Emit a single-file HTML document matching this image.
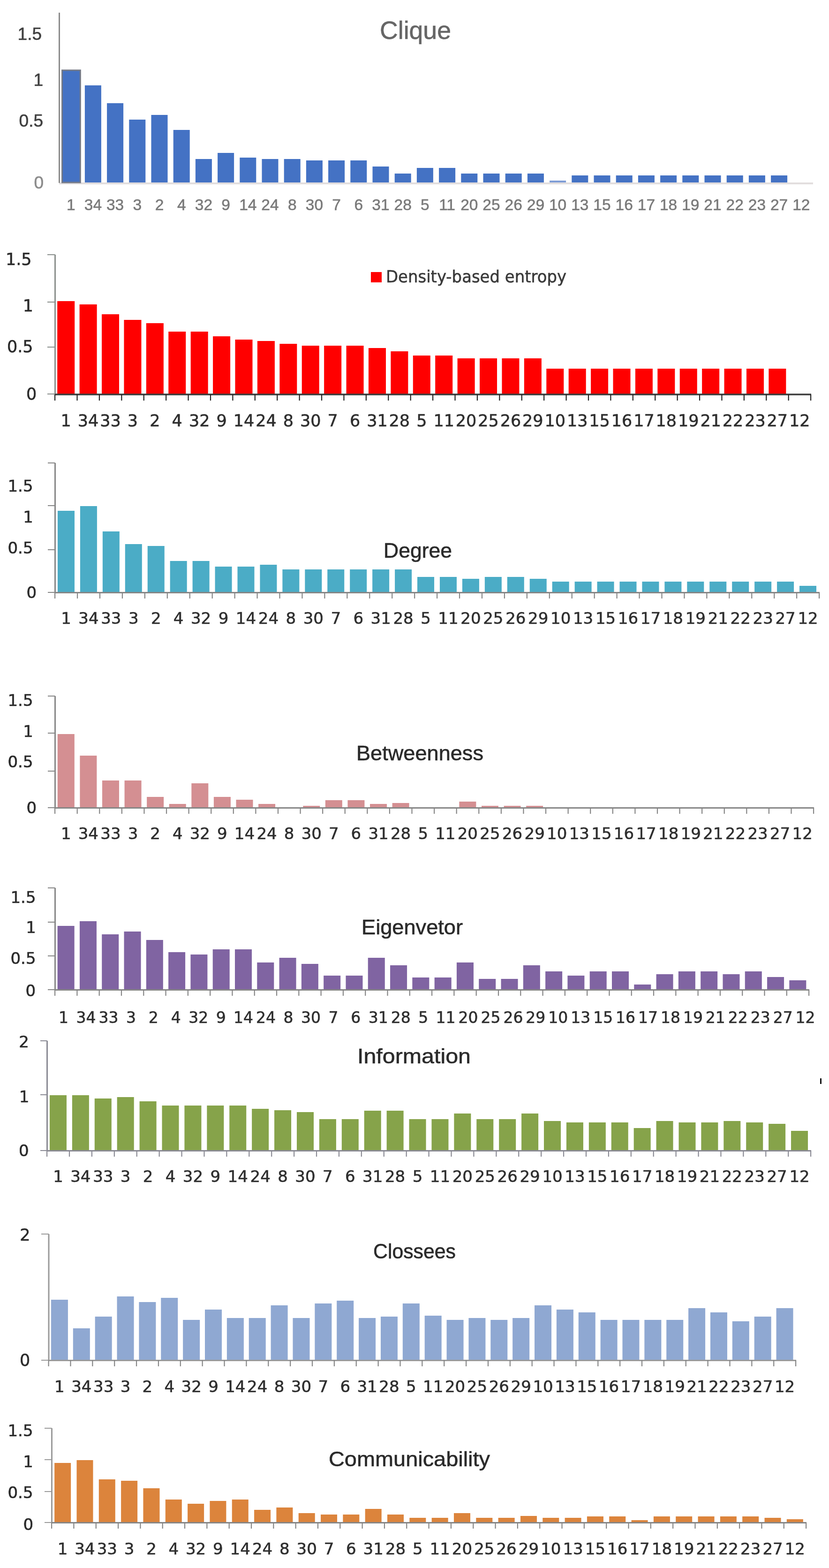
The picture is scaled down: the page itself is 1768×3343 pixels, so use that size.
<!DOCTYPE html>
<html lang="en"><head><meta charset="utf-8"><title>Centrality comparison bar charts</title>
<style>
html,body{margin:0;padding:0;background:#ffffff;}
svg{display:block;}
text{stroke-width:0.6px;paint-order:stroke;}
</style></head>
<body>
<svg width="1768" height="3343" viewBox="0 0 1768 3343">
<rect x="0" y="0" width="1768" height="3343" fill="#ffffff"/>
<g id="clique">
<rect x="126" y="389" width="1608" height="4" fill="#e2dede"/>
<rect x="132.5" y="149.8" width="38.8" height="239.2" fill="#4472C4" stroke="#737987" stroke-width="3"/>
<rect x="180.9" y="182" width="35" height="207" fill="#4472C4"/>
<rect x="228.1" y="220" width="35" height="169" fill="#4472C4"/>
<rect x="275.3" y="255" width="35" height="134" fill="#4472C4"/>
<rect x="322.5" y="245" width="35" height="144" fill="#4472C4"/>
<rect x="369.7" y="277" width="35" height="112" fill="#4472C4"/>
<rect x="416.9" y="339" width="35" height="50" fill="#4472C4"/>
<rect x="464.1" y="326" width="35" height="63" fill="#4472C4"/>
<rect x="511.3" y="336" width="35" height="53" fill="#4472C4"/>
<rect x="558.5" y="339" width="35" height="50" fill="#4472C4"/>
<rect x="605.7" y="339" width="35" height="50" fill="#4472C4"/>
<rect x="652.9" y="342" width="35" height="47" fill="#4472C4"/>
<rect x="700.1" y="342" width="35" height="47" fill="#4472C4"/>
<rect x="747.3" y="342" width="35" height="47" fill="#4472C4"/>
<rect x="794.5" y="355" width="35" height="34" fill="#4472C4"/>
<rect x="841.7" y="370" width="35" height="19" fill="#4472C4"/>
<rect x="888.9" y="358" width="35" height="31" fill="#4472C4"/>
<rect x="936.1" y="358" width="35" height="31" fill="#4472C4"/>
<rect x="983.3" y="370" width="35" height="19" fill="#4472C4"/>
<rect x="1030.5" y="370" width="35" height="19" fill="#4472C4"/>
<rect x="1077.7" y="370" width="35" height="19" fill="#4472C4"/>
<rect x="1124.9" y="370" width="35" height="19" fill="#4472C4"/>
<rect x="1172.1" y="385" width="35" height="4" fill="#7f9dd6"/>
<rect x="1219.3" y="374" width="35" height="15" fill="#4472C4"/>
<rect x="1266.5" y="374" width="35" height="15" fill="#4472C4"/>
<rect x="1313.7" y="374" width="35" height="15" fill="#4472C4"/>
<rect x="1360.9" y="374" width="35" height="15" fill="#4472C4"/>
<rect x="1408.1" y="374" width="35" height="15" fill="#4472C4"/>
<rect x="1455.3" y="374" width="35" height="15" fill="#4472C4"/>
<rect x="1502.5" y="374" width="35" height="15" fill="#4472C4"/>
<rect x="1549.7" y="374" width="35" height="15" fill="#4472C4"/>
<rect x="1596.9" y="374" width="35" height="15" fill="#4472C4"/>
<rect x="1644.1" y="374" width="35" height="15" fill="#4472C4"/>
<rect x="125" y="27" width="3" height="363" fill="#8c8c8c"/>
<text x="89" y="85" font-family="'Liberation Sans', Arial, sans-serif" font-size="37" fill="#404040" stroke="#404040" text-anchor="end">1.5</text>
<text x="92" y="183" font-family="'Liberation Sans', Arial, sans-serif" font-size="37" fill="#404040" stroke="#404040" text-anchor="end">1</text>
<text x="92" y="270" font-family="'Liberation Sans', Arial, sans-serif" font-size="37" fill="#404040" stroke="#404040" text-anchor="end">0.5</text>
<text x="93" y="402" font-family="'Liberation Sans', Arial, sans-serif" font-size="37" fill="#8c8c8c" stroke="#8c8c8c" text-anchor="end">0</text>
<text x="151.2" y="448" font-family="'Liberation Sans', Arial, sans-serif" font-size="33.5" fill="#7a7a7a" stroke="#7a7a7a" text-anchor="middle">1</text>
<text x="198.4" y="448" font-family="'Liberation Sans', Arial, sans-serif" font-size="33.5" fill="#7a7a7a" stroke="#7a7a7a" text-anchor="middle">34</text>
<text x="245.6" y="448" font-family="'Liberation Sans', Arial, sans-serif" font-size="33.5" fill="#7a7a7a" stroke="#7a7a7a" text-anchor="middle">33</text>
<text x="292.8" y="448" font-family="'Liberation Sans', Arial, sans-serif" font-size="33.5" fill="#7a7a7a" stroke="#7a7a7a" text-anchor="middle">3</text>
<text x="340" y="448" font-family="'Liberation Sans', Arial, sans-serif" font-size="33.5" fill="#7a7a7a" stroke="#7a7a7a" text-anchor="middle">2</text>
<text x="387.2" y="448" font-family="'Liberation Sans', Arial, sans-serif" font-size="33.5" fill="#7a7a7a" stroke="#7a7a7a" text-anchor="middle">4</text>
<text x="434.4" y="448" font-family="'Liberation Sans', Arial, sans-serif" font-size="33.5" fill="#7a7a7a" stroke="#7a7a7a" text-anchor="middle">32</text>
<text x="481.6" y="448" font-family="'Liberation Sans', Arial, sans-serif" font-size="33.5" fill="#7a7a7a" stroke="#7a7a7a" text-anchor="middle">9</text>
<text x="528.8" y="448" font-family="'Liberation Sans', Arial, sans-serif" font-size="33.5" fill="#7a7a7a" stroke="#7a7a7a" text-anchor="middle">14</text>
<text x="576" y="448" font-family="'Liberation Sans', Arial, sans-serif" font-size="33.5" fill="#7a7a7a" stroke="#7a7a7a" text-anchor="middle">24</text>
<text x="623.2" y="448" font-family="'Liberation Sans', Arial, sans-serif" font-size="33.5" fill="#7a7a7a" stroke="#7a7a7a" text-anchor="middle">8</text>
<text x="670.4" y="448" font-family="'Liberation Sans', Arial, sans-serif" font-size="33.5" fill="#7a7a7a" stroke="#7a7a7a" text-anchor="middle">30</text>
<text x="717.6" y="448" font-family="'Liberation Sans', Arial, sans-serif" font-size="33.5" fill="#7a7a7a" stroke="#7a7a7a" text-anchor="middle">7</text>
<text x="764.8" y="448" font-family="'Liberation Sans', Arial, sans-serif" font-size="33.5" fill="#7a7a7a" stroke="#7a7a7a" text-anchor="middle">6</text>
<text x="812" y="448" font-family="'Liberation Sans', Arial, sans-serif" font-size="33.5" fill="#7a7a7a" stroke="#7a7a7a" text-anchor="middle">31</text>
<text x="859.2" y="448" font-family="'Liberation Sans', Arial, sans-serif" font-size="33.5" fill="#7a7a7a" stroke="#7a7a7a" text-anchor="middle">28</text>
<text x="906.4" y="448" font-family="'Liberation Sans', Arial, sans-serif" font-size="33.5" fill="#7a7a7a" stroke="#7a7a7a" text-anchor="middle">5</text>
<text x="953.6" y="448" font-family="'Liberation Sans', Arial, sans-serif" font-size="33.5" fill="#7a7a7a" stroke="#7a7a7a" text-anchor="middle">11</text>
<text x="1000.8" y="448" font-family="'Liberation Sans', Arial, sans-serif" font-size="33.5" fill="#7a7a7a" stroke="#7a7a7a" text-anchor="middle">20</text>
<text x="1048" y="448" font-family="'Liberation Sans', Arial, sans-serif" font-size="33.5" fill="#7a7a7a" stroke="#7a7a7a" text-anchor="middle">25</text>
<text x="1095.2" y="448" font-family="'Liberation Sans', Arial, sans-serif" font-size="33.5" fill="#7a7a7a" stroke="#7a7a7a" text-anchor="middle">26</text>
<text x="1142.4" y="448" font-family="'Liberation Sans', Arial, sans-serif" font-size="33.5" fill="#7a7a7a" stroke="#7a7a7a" text-anchor="middle">29</text>
<text x="1189.6" y="448" font-family="'Liberation Sans', Arial, sans-serif" font-size="33.5" fill="#7a7a7a" stroke="#7a7a7a" text-anchor="middle">10</text>
<text x="1236.8" y="448" font-family="'Liberation Sans', Arial, sans-serif" font-size="33.5" fill="#7a7a7a" stroke="#7a7a7a" text-anchor="middle">13</text>
<text x="1284" y="448" font-family="'Liberation Sans', Arial, sans-serif" font-size="33.5" fill="#7a7a7a" stroke="#7a7a7a" text-anchor="middle">15</text>
<text x="1331.2" y="448" font-family="'Liberation Sans', Arial, sans-serif" font-size="33.5" fill="#7a7a7a" stroke="#7a7a7a" text-anchor="middle">16</text>
<text x="1378.4" y="448" font-family="'Liberation Sans', Arial, sans-serif" font-size="33.5" fill="#7a7a7a" stroke="#7a7a7a" text-anchor="middle">17</text>
<text x="1425.6" y="448" font-family="'Liberation Sans', Arial, sans-serif" font-size="33.5" fill="#7a7a7a" stroke="#7a7a7a" text-anchor="middle">18</text>
<text x="1472.8" y="448" font-family="'Liberation Sans', Arial, sans-serif" font-size="33.5" fill="#7a7a7a" stroke="#7a7a7a" text-anchor="middle">19</text>
<text x="1520" y="448" font-family="'Liberation Sans', Arial, sans-serif" font-size="33.5" fill="#7a7a7a" stroke="#7a7a7a" text-anchor="middle">21</text>
<text x="1567.2" y="448" font-family="'Liberation Sans', Arial, sans-serif" font-size="33.5" fill="#7a7a7a" stroke="#7a7a7a" text-anchor="middle">22</text>
<text x="1614.4" y="448" font-family="'Liberation Sans', Arial, sans-serif" font-size="33.5" fill="#7a7a7a" stroke="#7a7a7a" text-anchor="middle">23</text>
<text x="1661.6" y="448" font-family="'Liberation Sans', Arial, sans-serif" font-size="33.5" fill="#7a7a7a" stroke="#7a7a7a" text-anchor="middle">27</text>
<text x="1708.8" y="448" font-family="'Liberation Sans', Arial, sans-serif" font-size="33.5" fill="#7a7a7a" stroke="#7a7a7a" text-anchor="middle">12</text>
<text x="810" y="83" font-family="'Liberation Sans', Arial, sans-serif" font-size="54" fill="#666666" stroke="#666666" textLength="152" lengthAdjust="spacingAndGlyphs">Clique</text>
</g>
<g id="density">
<rect x="122.21" y="642" width="37" height="198" fill="#FF0000"/>
<rect x="169.62" y="649" width="37" height="191" fill="#FF0000"/>
<rect x="217.03" y="670" width="37" height="170" fill="#FF0000"/>
<rect x="264.44" y="682" width="37" height="158" fill="#FF0000"/>
<rect x="311.85" y="689" width="37" height="151" fill="#FF0000"/>
<rect x="359.26" y="707" width="37" height="133" fill="#FF0000"/>
<rect x="406.68" y="707" width="37" height="133" fill="#FF0000"/>
<rect x="454.09" y="717" width="37" height="123" fill="#FF0000"/>
<rect x="501.5" y="724" width="37" height="116" fill="#FF0000"/>
<rect x="548.91" y="727" width="37" height="113" fill="#FF0000"/>
<rect x="596.32" y="733" width="37" height="107" fill="#FF0000"/>
<rect x="643.74" y="737" width="37" height="103" fill="#FF0000"/>
<rect x="691.15" y="737" width="37" height="103" fill="#FF0000"/>
<rect x="738.56" y="737" width="37" height="103" fill="#FF0000"/>
<rect x="785.97" y="742" width="37" height="98" fill="#FF0000"/>
<rect x="833.38" y="749" width="37" height="91" fill="#FF0000"/>
<rect x="880.79" y="758" width="37" height="82" fill="#FF0000"/>
<rect x="928.21" y="758" width="37" height="82" fill="#FF0000"/>
<rect x="975.62" y="764" width="37" height="76" fill="#FF0000"/>
<rect x="1023.03" y="764" width="37" height="76" fill="#FF0000"/>
<rect x="1070.44" y="764" width="37" height="76" fill="#FF0000"/>
<rect x="1117.85" y="764" width="37" height="76" fill="#FF0000"/>
<rect x="1165.26" y="786" width="37" height="54" fill="#FF0000"/>
<rect x="1212.68" y="786" width="37" height="54" fill="#FF0000"/>
<rect x="1260.09" y="786" width="37" height="54" fill="#FF0000"/>
<rect x="1307.5" y="786" width="37" height="54" fill="#FF0000"/>
<rect x="1354.91" y="786" width="37" height="54" fill="#FF0000"/>
<rect x="1402.32" y="786" width="37" height="54" fill="#FF0000"/>
<rect x="1449.74" y="786" width="37" height="54" fill="#FF0000"/>
<rect x="1497.15" y="786" width="37" height="54" fill="#FF0000"/>
<rect x="1544.56" y="786" width="37" height="54" fill="#FF0000"/>
<rect x="1591.97" y="786" width="37" height="54" fill="#FF0000"/>
<rect x="1639.38" y="786" width="37" height="54" fill="#FF0000"/>
<rect x="116" y="543" width="3" height="297" fill="#8a8f8c"/>
<rect x="117" y="839.25" width="1613" height="3.5" fill="#3c3c3c"/>
<rect x="101" y="542" width="16.5" height="2" fill="#8a8f8c"/>
<rect x="101" y="643" width="16.5" height="2" fill="#8a8f8c"/>
<rect x="101" y="739" width="16.5" height="2" fill="#8a8f8c"/>
<rect x="101" y="839" width="16.5" height="2" fill="#8a8f8c"/>
<rect x="116" y="841" width="2.2" height="13" fill="#222"/>
<rect x="163.41" y="841" width="2.2" height="13" fill="#222"/>
<rect x="210.82" y="841" width="2.2" height="13" fill="#222"/>
<rect x="258.24" y="841" width="2.2" height="13" fill="#222"/>
<rect x="305.65" y="841" width="2.2" height="13" fill="#222"/>
<rect x="353.06" y="841" width="2.2" height="13" fill="#222"/>
<rect x="400.47" y="841" width="2.2" height="13" fill="#222"/>
<rect x="447.88" y="841" width="2.2" height="13" fill="#222"/>
<rect x="495.29" y="841" width="2.2" height="13" fill="#222"/>
<rect x="542.71" y="841" width="2.2" height="13" fill="#222"/>
<rect x="590.12" y="841" width="2.2" height="13" fill="#222"/>
<rect x="637.53" y="841" width="2.2" height="13" fill="#222"/>
<rect x="684.94" y="841" width="2.2" height="13" fill="#222"/>
<rect x="732.35" y="841" width="2.2" height="13" fill="#222"/>
<rect x="779.76" y="841" width="2.2" height="13" fill="#222"/>
<rect x="827.18" y="841" width="2.2" height="13" fill="#222"/>
<rect x="874.59" y="841" width="2.2" height="13" fill="#222"/>
<rect x="922" y="841" width="2.2" height="13" fill="#222"/>
<rect x="969.41" y="841" width="2.2" height="13" fill="#222"/>
<rect x="1016.82" y="841" width="2.2" height="13" fill="#222"/>
<rect x="1064.24" y="841" width="2.2" height="13" fill="#222"/>
<rect x="1111.65" y="841" width="2.2" height="13" fill="#222"/>
<rect x="1159.06" y="841" width="2.2" height="13" fill="#222"/>
<rect x="1206.47" y="841" width="2.2" height="13" fill="#222"/>
<rect x="1253.88" y="841" width="2.2" height="13" fill="#222"/>
<rect x="1301.29" y="841" width="2.2" height="13" fill="#222"/>
<rect x="1348.71" y="841" width="2.2" height="13" fill="#222"/>
<rect x="1396.12" y="841" width="2.2" height="13" fill="#222"/>
<rect x="1443.53" y="841" width="2.2" height="13" fill="#222"/>
<rect x="1490.94" y="841" width="2.2" height="13" fill="#222"/>
<rect x="1538.35" y="841" width="2.2" height="13" fill="#222"/>
<rect x="1585.76" y="841" width="2.2" height="13" fill="#222"/>
<rect x="1633.18" y="841" width="2.2" height="13" fill="#222"/>
<rect x="1680.59" y="841" width="2.2" height="13" fill="#222"/>
<rect x="1728" y="841" width="2.2" height="13" fill="#222"/>
<text x="67.62" y="565" font-family="'DejaVu Sans', Verdana, sans-serif" font-size="35" fill="#2a2a2a" stroke="#2a2a2a" text-anchor="end">1.5</text>
<text x="70.97" y="664" font-family="'DejaVu Sans', Verdana, sans-serif" font-size="35" fill="#2a2a2a" stroke="#2a2a2a" text-anchor="end">1</text>
<text x="70.62" y="751" font-family="'DejaVu Sans', Verdana, sans-serif" font-size="35" fill="#2a2a2a" stroke="#2a2a2a" text-anchor="end">0.5</text>
<text x="78.31" y="852" font-family="'DejaVu Sans', Verdana, sans-serif" font-size="35" fill="#2a2a2a" stroke="#2a2a2a" text-anchor="end">0</text>
<text x="140.71" y="908.5" font-family="'DejaVu Sans', Verdana, sans-serif" font-size="35" fill="#2e2e2e" stroke="#2e2e2e" text-anchor="middle">1</text>
<text x="188.12" y="908.5" font-family="'DejaVu Sans', Verdana, sans-serif" font-size="35" fill="#2e2e2e" stroke="#2e2e2e" text-anchor="middle">34</text>
<text x="235.53" y="908.5" font-family="'DejaVu Sans', Verdana, sans-serif" font-size="35" fill="#2e2e2e" stroke="#2e2e2e" text-anchor="middle">33</text>
<text x="282.94" y="908.5" font-family="'DejaVu Sans', Verdana, sans-serif" font-size="35" fill="#2e2e2e" stroke="#2e2e2e" text-anchor="middle">3</text>
<text x="330.35" y="908.5" font-family="'DejaVu Sans', Verdana, sans-serif" font-size="35" fill="#2e2e2e" stroke="#2e2e2e" text-anchor="middle">2</text>
<text x="377.76" y="908.5" font-family="'DejaVu Sans', Verdana, sans-serif" font-size="35" fill="#2e2e2e" stroke="#2e2e2e" text-anchor="middle">4</text>
<text x="425.18" y="908.5" font-family="'DejaVu Sans', Verdana, sans-serif" font-size="35" fill="#2e2e2e" stroke="#2e2e2e" text-anchor="middle">32</text>
<text x="472.59" y="908.5" font-family="'DejaVu Sans', Verdana, sans-serif" font-size="35" fill="#2e2e2e" stroke="#2e2e2e" text-anchor="middle">9</text>
<text x="520" y="908.5" font-family="'DejaVu Sans', Verdana, sans-serif" font-size="35" fill="#2e2e2e" stroke="#2e2e2e" text-anchor="middle">14</text>
<text x="567.41" y="908.5" font-family="'DejaVu Sans', Verdana, sans-serif" font-size="35" fill="#2e2e2e" stroke="#2e2e2e" text-anchor="middle">24</text>
<text x="614.82" y="908.5" font-family="'DejaVu Sans', Verdana, sans-serif" font-size="35" fill="#2e2e2e" stroke="#2e2e2e" text-anchor="middle">8</text>
<text x="662.24" y="908.5" font-family="'DejaVu Sans', Verdana, sans-serif" font-size="35" fill="#2e2e2e" stroke="#2e2e2e" text-anchor="middle">30</text>
<text x="709.65" y="908.5" font-family="'DejaVu Sans', Verdana, sans-serif" font-size="35" fill="#2e2e2e" stroke="#2e2e2e" text-anchor="middle">7</text>
<text x="757.06" y="908.5" font-family="'DejaVu Sans', Verdana, sans-serif" font-size="35" fill="#2e2e2e" stroke="#2e2e2e" text-anchor="middle">6</text>
<text x="804.47" y="908.5" font-family="'DejaVu Sans', Verdana, sans-serif" font-size="35" fill="#2e2e2e" stroke="#2e2e2e" text-anchor="middle">31</text>
<text x="851.88" y="908.5" font-family="'DejaVu Sans', Verdana, sans-serif" font-size="35" fill="#2e2e2e" stroke="#2e2e2e" text-anchor="middle">28</text>
<text x="899.29" y="908.5" font-family="'DejaVu Sans', Verdana, sans-serif" font-size="35" fill="#2e2e2e" stroke="#2e2e2e" text-anchor="middle">5</text>
<text x="946.71" y="908.5" font-family="'DejaVu Sans', Verdana, sans-serif" font-size="35" fill="#2e2e2e" stroke="#2e2e2e" text-anchor="middle">11</text>
<text x="994.12" y="908.5" font-family="'DejaVu Sans', Verdana, sans-serif" font-size="35" fill="#2e2e2e" stroke="#2e2e2e" text-anchor="middle">20</text>
<text x="1041.53" y="908.5" font-family="'DejaVu Sans', Verdana, sans-serif" font-size="35" fill="#2e2e2e" stroke="#2e2e2e" text-anchor="middle">25</text>
<text x="1088.94" y="908.5" font-family="'DejaVu Sans', Verdana, sans-serif" font-size="35" fill="#2e2e2e" stroke="#2e2e2e" text-anchor="middle">26</text>
<text x="1136.35" y="908.5" font-family="'DejaVu Sans', Verdana, sans-serif" font-size="35" fill="#2e2e2e" stroke="#2e2e2e" text-anchor="middle">29</text>
<text x="1183.76" y="908.5" font-family="'DejaVu Sans', Verdana, sans-serif" font-size="35" fill="#2e2e2e" stroke="#2e2e2e" text-anchor="middle">10</text>
<text x="1231.18" y="908.5" font-family="'DejaVu Sans', Verdana, sans-serif" font-size="35" fill="#2e2e2e" stroke="#2e2e2e" text-anchor="middle">13</text>
<text x="1278.59" y="908.5" font-family="'DejaVu Sans', Verdana, sans-serif" font-size="35" fill="#2e2e2e" stroke="#2e2e2e" text-anchor="middle">15</text>
<text x="1326" y="908.5" font-family="'DejaVu Sans', Verdana, sans-serif" font-size="35" fill="#2e2e2e" stroke="#2e2e2e" text-anchor="middle">16</text>
<text x="1373.41" y="908.5" font-family="'DejaVu Sans', Verdana, sans-serif" font-size="35" fill="#2e2e2e" stroke="#2e2e2e" text-anchor="middle">17</text>
<text x="1420.82" y="908.5" font-family="'DejaVu Sans', Verdana, sans-serif" font-size="35" fill="#2e2e2e" stroke="#2e2e2e" text-anchor="middle">18</text>
<text x="1468.24" y="908.5" font-family="'DejaVu Sans', Verdana, sans-serif" font-size="35" fill="#2e2e2e" stroke="#2e2e2e" text-anchor="middle">19</text>
<text x="1515.65" y="908.5" font-family="'DejaVu Sans', Verdana, sans-serif" font-size="35" fill="#2e2e2e" stroke="#2e2e2e" text-anchor="middle">21</text>
<text x="1563.06" y="908.5" font-family="'DejaVu Sans', Verdana, sans-serif" font-size="35" fill="#2e2e2e" stroke="#2e2e2e" text-anchor="middle">22</text>
<text x="1610.47" y="908.5" font-family="'DejaVu Sans', Verdana, sans-serif" font-size="35" fill="#2e2e2e" stroke="#2e2e2e" text-anchor="middle">23</text>
<text x="1657.88" y="908.5" font-family="'DejaVu Sans', Verdana, sans-serif" font-size="35" fill="#2e2e2e" stroke="#2e2e2e" text-anchor="middle">27</text>
<text x="1705.29" y="908.5" font-family="'DejaVu Sans', Verdana, sans-serif" font-size="35" fill="#2e2e2e" stroke="#2e2e2e" text-anchor="middle">12</text>
<rect x="791" y="580" width="23" height="22" fill="#FF0000"/>
<text x="823" y="602" font-family="'DejaVu Sans', Verdana, sans-serif" font-size="35" fill="#3a3a3a" stroke="#3a3a3a" textLength="385" lengthAdjust="spacingAndGlyphs">Density-based entropy</text>
</g>
<g id="degree">
<rect x="122.97" y="1089" width="36" height="174" fill="#4BACC6"/>
<rect x="170.91" y="1079" width="36" height="184" fill="#4BACC6"/>
<rect x="218.85" y="1133" width="36" height="130" fill="#4BACC6"/>
<rect x="266.79" y="1160" width="36" height="103" fill="#4BACC6"/>
<rect x="314.74" y="1164" width="36" height="99" fill="#4BACC6"/>
<rect x="362.68" y="1196" width="36" height="67" fill="#4BACC6"/>
<rect x="410.62" y="1196" width="36" height="67" fill="#4BACC6"/>
<rect x="458.56" y="1208" width="36" height="55" fill="#4BACC6"/>
<rect x="506.5" y="1208" width="36" height="55" fill="#4BACC6"/>
<rect x="554.44" y="1204" width="36" height="59" fill="#4BACC6"/>
<rect x="602.38" y="1214" width="36" height="49" fill="#4BACC6"/>
<rect x="650.32" y="1214" width="36" height="49" fill="#4BACC6"/>
<rect x="698.26" y="1214" width="36" height="49" fill="#4BACC6"/>
<rect x="746.21" y="1214" width="36" height="49" fill="#4BACC6"/>
<rect x="794.15" y="1214" width="36" height="49" fill="#4BACC6"/>
<rect x="842.09" y="1214" width="36" height="49" fill="#4BACC6"/>
<rect x="890.03" y="1230" width="36" height="33" fill="#4BACC6"/>
<rect x="937.97" y="1230" width="36" height="33" fill="#4BACC6"/>
<rect x="985.91" y="1234" width="36" height="29" fill="#4BACC6"/>
<rect x="1033.85" y="1230" width="36" height="33" fill="#4BACC6"/>
<rect x="1081.79" y="1230" width="36" height="33" fill="#4BACC6"/>
<rect x="1129.74" y="1234" width="36" height="29" fill="#4BACC6"/>
<rect x="1177.68" y="1240" width="36" height="23" fill="#4BACC6"/>
<rect x="1225.62" y="1240" width="36" height="23" fill="#4BACC6"/>
<rect x="1273.56" y="1240" width="36" height="23" fill="#4BACC6"/>
<rect x="1321.5" y="1240" width="36" height="23" fill="#4BACC6"/>
<rect x="1369.44" y="1240" width="36" height="23" fill="#4BACC6"/>
<rect x="1417.38" y="1240" width="36" height="23" fill="#4BACC6"/>
<rect x="1465.32" y="1240" width="36" height="23" fill="#4BACC6"/>
<rect x="1513.26" y="1240" width="36" height="23" fill="#4BACC6"/>
<rect x="1561.21" y="1240" width="36" height="23" fill="#4BACC6"/>
<rect x="1609.15" y="1240" width="36" height="23" fill="#4BACC6"/>
<rect x="1657.09" y="1240" width="36" height="23" fill="#4BACC6"/>
<rect x="1705.03" y="1249" width="36" height="14" fill="#4BACC6"/>
<rect x="116" y="987" width="3" height="276" fill="#868686"/>
<rect x="117" y="1262" width="1631" height="3" fill="#868686"/>
<rect x="102" y="986" width="15.5" height="2" fill="#868686"/>
<rect x="102" y="1077" width="15.5" height="2" fill="#868686"/>
<rect x="102" y="1171" width="15.5" height="2" fill="#868686"/>
<rect x="102" y="1262" width="15.5" height="2" fill="#868686"/>
<rect x="116" y="1263" width="2.2" height="13" fill="#868686"/>
<rect x="163.94" y="1263" width="2.2" height="13" fill="#868686"/>
<rect x="211.88" y="1263" width="2.2" height="13" fill="#868686"/>
<rect x="259.82" y="1263" width="2.2" height="13" fill="#868686"/>
<rect x="307.76" y="1263" width="2.2" height="13" fill="#868686"/>
<rect x="355.71" y="1263" width="2.2" height="13" fill="#868686"/>
<rect x="403.65" y="1263" width="2.2" height="13" fill="#868686"/>
<rect x="451.59" y="1263" width="2.2" height="13" fill="#868686"/>
<rect x="499.53" y="1263" width="2.2" height="13" fill="#868686"/>
<rect x="547.47" y="1263" width="2.2" height="13" fill="#868686"/>
<rect x="595.41" y="1263" width="2.2" height="13" fill="#868686"/>
<rect x="643.35" y="1263" width="2.2" height="13" fill="#868686"/>
<rect x="691.29" y="1263" width="2.2" height="13" fill="#868686"/>
<rect x="739.24" y="1263" width="2.2" height="13" fill="#868686"/>
<rect x="787.18" y="1263" width="2.2" height="13" fill="#868686"/>
<rect x="835.12" y="1263" width="2.2" height="13" fill="#868686"/>
<rect x="883.06" y="1263" width="2.2" height="13" fill="#868686"/>
<rect x="931" y="1263" width="2.2" height="13" fill="#868686"/>
<rect x="978.94" y="1263" width="2.2" height="13" fill="#868686"/>
<rect x="1026.88" y="1263" width="2.2" height="13" fill="#868686"/>
<rect x="1074.82" y="1263" width="2.2" height="13" fill="#868686"/>
<rect x="1122.76" y="1263" width="2.2" height="13" fill="#868686"/>
<rect x="1170.71" y="1263" width="2.2" height="13" fill="#868686"/>
<rect x="1218.65" y="1263" width="2.2" height="13" fill="#868686"/>
<rect x="1266.59" y="1263" width="2.2" height="13" fill="#868686"/>
<rect x="1314.53" y="1263" width="2.2" height="13" fill="#868686"/>
<rect x="1362.47" y="1263" width="2.2" height="13" fill="#868686"/>
<rect x="1410.41" y="1263" width="2.2" height="13" fill="#868686"/>
<rect x="1458.35" y="1263" width="2.2" height="13" fill="#868686"/>
<rect x="1506.29" y="1263" width="2.2" height="13" fill="#868686"/>
<rect x="1554.24" y="1263" width="2.2" height="13" fill="#868686"/>
<rect x="1602.18" y="1263" width="2.2" height="13" fill="#868686"/>
<rect x="1650.12" y="1263" width="2.2" height="13" fill="#868686"/>
<rect x="1698.06" y="1263" width="2.2" height="13" fill="#868686"/>
<rect x="1746" y="1263" width="2.2" height="13" fill="#868686"/>
<text x="70.55" y="1048" font-family="'DejaVu Sans', Verdana, sans-serif" font-size="34" fill="#2a2a2a" stroke="#2a2a2a" text-anchor="end">1.5</text>
<text x="70.89" y="1114" font-family="'DejaVu Sans', Verdana, sans-serif" font-size="34" fill="#2a2a2a" stroke="#2a2a2a" text-anchor="end">1</text>
<text x="70.55" y="1180" font-family="'DejaVu Sans', Verdana, sans-serif" font-size="34" fill="#2a2a2a" stroke="#2a2a2a" text-anchor="end">0.5</text>
<text x="78.24" y="1275" font-family="'DejaVu Sans', Verdana, sans-serif" font-size="34" fill="#2a2a2a" stroke="#2a2a2a" text-anchor="end">0</text>
<text x="140.97" y="1329.5" font-family="'DejaVu Sans', Verdana, sans-serif" font-size="34" fill="#2e2e2e" stroke="#2e2e2e" text-anchor="middle">1</text>
<text x="188.91" y="1329.5" font-family="'DejaVu Sans', Verdana, sans-serif" font-size="34" fill="#2e2e2e" stroke="#2e2e2e" text-anchor="middle">34</text>
<text x="236.85" y="1329.5" font-family="'DejaVu Sans', Verdana, sans-serif" font-size="34" fill="#2e2e2e" stroke="#2e2e2e" text-anchor="middle">33</text>
<text x="284.79" y="1329.5" font-family="'DejaVu Sans', Verdana, sans-serif" font-size="34" fill="#2e2e2e" stroke="#2e2e2e" text-anchor="middle">3</text>
<text x="332.74" y="1329.5" font-family="'DejaVu Sans', Verdana, sans-serif" font-size="34" fill="#2e2e2e" stroke="#2e2e2e" text-anchor="middle">2</text>
<text x="380.68" y="1329.5" font-family="'DejaVu Sans', Verdana, sans-serif" font-size="34" fill="#2e2e2e" stroke="#2e2e2e" text-anchor="middle">4</text>
<text x="428.62" y="1329.5" font-family="'DejaVu Sans', Verdana, sans-serif" font-size="34" fill="#2e2e2e" stroke="#2e2e2e" text-anchor="middle">32</text>
<text x="476.56" y="1329.5" font-family="'DejaVu Sans', Verdana, sans-serif" font-size="34" fill="#2e2e2e" stroke="#2e2e2e" text-anchor="middle">9</text>
<text x="524.5" y="1329.5" font-family="'DejaVu Sans', Verdana, sans-serif" font-size="34" fill="#2e2e2e" stroke="#2e2e2e" text-anchor="middle">14</text>
<text x="572.44" y="1329.5" font-family="'DejaVu Sans', Verdana, sans-serif" font-size="34" fill="#2e2e2e" stroke="#2e2e2e" text-anchor="middle">24</text>
<text x="620.38" y="1329.5" font-family="'DejaVu Sans', Verdana, sans-serif" font-size="34" fill="#2e2e2e" stroke="#2e2e2e" text-anchor="middle">8</text>
<text x="668.32" y="1329.5" font-family="'DejaVu Sans', Verdana, sans-serif" font-size="34" fill="#2e2e2e" stroke="#2e2e2e" text-anchor="middle">30</text>
<text x="716.26" y="1329.5" font-family="'DejaVu Sans', Verdana, sans-serif" font-size="34" fill="#2e2e2e" stroke="#2e2e2e" text-anchor="middle">7</text>
<text x="764.21" y="1329.5" font-family="'DejaVu Sans', Verdana, sans-serif" font-size="34" fill="#2e2e2e" stroke="#2e2e2e" text-anchor="middle">6</text>
<text x="812.15" y="1329.5" font-family="'DejaVu Sans', Verdana, sans-serif" font-size="34" fill="#2e2e2e" stroke="#2e2e2e" text-anchor="middle">31</text>
<text x="860.09" y="1329.5" font-family="'DejaVu Sans', Verdana, sans-serif" font-size="34" fill="#2e2e2e" stroke="#2e2e2e" text-anchor="middle">28</text>
<text x="908.03" y="1329.5" font-family="'DejaVu Sans', Verdana, sans-serif" font-size="34" fill="#2e2e2e" stroke="#2e2e2e" text-anchor="middle">5</text>
<text x="955.97" y="1329.5" font-family="'DejaVu Sans', Verdana, sans-serif" font-size="34" fill="#2e2e2e" stroke="#2e2e2e" text-anchor="middle">11</text>
<text x="1003.91" y="1329.5" font-family="'DejaVu Sans', Verdana, sans-serif" font-size="34" fill="#2e2e2e" stroke="#2e2e2e" text-anchor="middle">20</text>
<text x="1051.85" y="1329.5" font-family="'DejaVu Sans', Verdana, sans-serif" font-size="34" fill="#2e2e2e" stroke="#2e2e2e" text-anchor="middle">25</text>
<text x="1099.79" y="1329.5" font-family="'DejaVu Sans', Verdana, sans-serif" font-size="34" fill="#2e2e2e" stroke="#2e2e2e" text-anchor="middle">26</text>
<text x="1147.74" y="1329.5" font-family="'DejaVu Sans', Verdana, sans-serif" font-size="34" fill="#2e2e2e" stroke="#2e2e2e" text-anchor="middle">29</text>
<text x="1195.68" y="1329.5" font-family="'DejaVu Sans', Verdana, sans-serif" font-size="34" fill="#2e2e2e" stroke="#2e2e2e" text-anchor="middle">10</text>
<text x="1243.62" y="1329.5" font-family="'DejaVu Sans', Verdana, sans-serif" font-size="34" fill="#2e2e2e" stroke="#2e2e2e" text-anchor="middle">13</text>
<text x="1291.56" y="1329.5" font-family="'DejaVu Sans', Verdana, sans-serif" font-size="34" fill="#2e2e2e" stroke="#2e2e2e" text-anchor="middle">15</text>
<text x="1339.5" y="1329.5" font-family="'DejaVu Sans', Verdana, sans-serif" font-size="34" fill="#2e2e2e" stroke="#2e2e2e" text-anchor="middle">16</text>
<text x="1387.44" y="1329.5" font-family="'DejaVu Sans', Verdana, sans-serif" font-size="34" fill="#2e2e2e" stroke="#2e2e2e" text-anchor="middle">17</text>
<text x="1435.38" y="1329.5" font-family="'DejaVu Sans', Verdana, sans-serif" font-size="34" fill="#2e2e2e" stroke="#2e2e2e" text-anchor="middle">18</text>
<text x="1483.32" y="1329.5" font-family="'DejaVu Sans', Verdana, sans-serif" font-size="34" fill="#2e2e2e" stroke="#2e2e2e" text-anchor="middle">19</text>
<text x="1531.26" y="1329.5" font-family="'DejaVu Sans', Verdana, sans-serif" font-size="34" fill="#2e2e2e" stroke="#2e2e2e" text-anchor="middle">21</text>
<text x="1579.21" y="1329.5" font-family="'DejaVu Sans', Verdana, sans-serif" font-size="34" fill="#2e2e2e" stroke="#2e2e2e" text-anchor="middle">22</text>
<text x="1627.15" y="1329.5" font-family="'DejaVu Sans', Verdana, sans-serif" font-size="34" fill="#2e2e2e" stroke="#2e2e2e" text-anchor="middle">23</text>
<text x="1675.09" y="1329.5" font-family="'DejaVu Sans', Verdana, sans-serif" font-size="34" fill="#2e2e2e" stroke="#2e2e2e" text-anchor="middle">27</text>
<text x="1723.03" y="1329.5" font-family="'DejaVu Sans', Verdana, sans-serif" font-size="34" fill="#2e2e2e" stroke="#2e2e2e" text-anchor="middle">12</text>
<text x="818" y="1188.5" font-family="'Liberation Sans', Arial, sans-serif" font-size="44" fill="#2a2a2a" stroke="#2a2a2a" textLength="146" lengthAdjust="spacingAndGlyphs">Degree</text>
</g>
<g id="betweenness">
<rect x="122.79" y="1565" width="36" height="157" fill="#D48F92"/>
<rect x="170.38" y="1611" width="36" height="111" fill="#D48F92"/>
<rect x="217.97" y="1664" width="36" height="58" fill="#D48F92"/>
<rect x="265.56" y="1664" width="36" height="58" fill="#D48F92"/>
<rect x="313.15" y="1699" width="36" height="23" fill="#D48F92"/>
<rect x="360.74" y="1714" width="36" height="8" fill="#D48F92"/>
<rect x="408.32" y="1670" width="36" height="52" fill="#D48F92"/>
<rect x="455.91" y="1699" width="36" height="23" fill="#D48F92"/>
<rect x="503.5" y="1705" width="36" height="17" fill="#D48F92"/>
<rect x="551.09" y="1714" width="36" height="8" fill="#D48F92"/>
<rect x="646.26" y="1718" width="36" height="4" fill="#D48F92"/>
<rect x="693.85" y="1706" width="36" height="16" fill="#D48F92"/>
<rect x="741.44" y="1706" width="36" height="16" fill="#D48F92"/>
<rect x="789.03" y="1714" width="36" height="8" fill="#D48F92"/>
<rect x="836.62" y="1712" width="36" height="10" fill="#D48F92"/>
<rect x="979.38" y="1709" width="36" height="13" fill="#D48F92"/>
<rect x="1026.97" y="1718" width="36" height="4" fill="#D48F92"/>
<rect x="1074.56" y="1718" width="36" height="4" fill="#D48F92"/>
<rect x="1122.15" y="1718" width="36" height="4" fill="#D48F92"/>
<rect x="116" y="1484" width="3" height="238" fill="#868686"/>
<rect x="117" y="1721" width="1619" height="3" fill="#868686"/>
<rect x="102" y="1483" width="15.5" height="2" fill="#868686"/>
<rect x="102" y="1562" width="15.5" height="2" fill="#868686"/>
<rect x="102" y="1643" width="15.5" height="2" fill="#868686"/>
<rect x="102" y="1721" width="15.5" height="2" fill="#868686"/>
<rect x="116" y="1722" width="2.2" height="13" fill="#868686"/>
<rect x="163.59" y="1722" width="2.2" height="13" fill="#868686"/>
<rect x="211.18" y="1722" width="2.2" height="13" fill="#868686"/>
<rect x="258.76" y="1722" width="2.2" height="13" fill="#868686"/>
<rect x="306.35" y="1722" width="2.2" height="13" fill="#868686"/>
<rect x="353.94" y="1722" width="2.2" height="13" fill="#868686"/>
<rect x="401.53" y="1722" width="2.2" height="13" fill="#868686"/>
<rect x="449.12" y="1722" width="2.2" height="13" fill="#868686"/>
<rect x="496.71" y="1722" width="2.2" height="13" fill="#868686"/>
<rect x="544.29" y="1722" width="2.2" height="13" fill="#868686"/>
<rect x="591.88" y="1722" width="2.2" height="13" fill="#868686"/>
<rect x="639.47" y="1722" width="2.2" height="13" fill="#868686"/>
<rect x="687.06" y="1722" width="2.2" height="13" fill="#868686"/>
<rect x="734.65" y="1722" width="2.2" height="13" fill="#868686"/>
<rect x="782.24" y="1722" width="2.2" height="13" fill="#868686"/>
<rect x="829.82" y="1722" width="2.2" height="13" fill="#868686"/>
<rect x="877.41" y="1722" width="2.2" height="13" fill="#868686"/>
<rect x="925" y="1722" width="2.2" height="13" fill="#868686"/>
<rect x="972.59" y="1722" width="2.2" height="13" fill="#868686"/>
<rect x="1020.18" y="1722" width="2.2" height="13" fill="#868686"/>
<rect x="1067.76" y="1722" width="2.2" height="13" fill="#868686"/>
<rect x="1115.35" y="1722" width="2.2" height="13" fill="#868686"/>
<rect x="1162.94" y="1722" width="2.2" height="13" fill="#868686"/>
<rect x="1210.53" y="1722" width="2.2" height="13" fill="#868686"/>
<rect x="1258.12" y="1722" width="2.2" height="13" fill="#868686"/>
<rect x="1305.71" y="1722" width="2.2" height="13" fill="#868686"/>
<rect x="1353.29" y="1722" width="2.2" height="13" fill="#868686"/>
<rect x="1400.88" y="1722" width="2.2" height="13" fill="#868686"/>
<rect x="1448.47" y="1722" width="2.2" height="13" fill="#868686"/>
<rect x="1496.06" y="1722" width="2.2" height="13" fill="#868686"/>
<rect x="1543.65" y="1722" width="2.2" height="13" fill="#868686"/>
<rect x="1591.24" y="1722" width="2.2" height="13" fill="#868686"/>
<rect x="1638.82" y="1722" width="2.2" height="13" fill="#868686"/>
<rect x="1686.41" y="1722" width="2.2" height="13" fill="#868686"/>
<rect x="1734" y="1722" width="2.2" height="13" fill="#868686"/>
<text x="70.55" y="1505" font-family="'DejaVu Sans', Verdana, sans-serif" font-size="34" fill="#2a2a2a" stroke="#2a2a2a" text-anchor="end">1.5</text>
<text x="70.89" y="1571" font-family="'DejaVu Sans', Verdana, sans-serif" font-size="34" fill="#2a2a2a" stroke="#2a2a2a" text-anchor="end">1</text>
<text x="70.55" y="1636" font-family="'DejaVu Sans', Verdana, sans-serif" font-size="34" fill="#2a2a2a" stroke="#2a2a2a" text-anchor="end">0.5</text>
<text x="78.24" y="1734" font-family="'DejaVu Sans', Verdana, sans-serif" font-size="34" fill="#2a2a2a" stroke="#2a2a2a" text-anchor="end">0</text>
<text x="140.79" y="1789" font-family="'DejaVu Sans', Verdana, sans-serif" font-size="34" fill="#2e2e2e" stroke="#2e2e2e" text-anchor="middle">1</text>
<text x="188.38" y="1789" font-family="'DejaVu Sans', Verdana, sans-serif" font-size="34" fill="#2e2e2e" stroke="#2e2e2e" text-anchor="middle">34</text>
<text x="235.97" y="1789" font-family="'DejaVu Sans', Verdana, sans-serif" font-size="34" fill="#2e2e2e" stroke="#2e2e2e" text-anchor="middle">33</text>
<text x="283.56" y="1789" font-family="'DejaVu Sans', Verdana, sans-serif" font-size="34" fill="#2e2e2e" stroke="#2e2e2e" text-anchor="middle">3</text>
<text x="331.15" y="1789" font-family="'DejaVu Sans', Verdana, sans-serif" font-size="34" fill="#2e2e2e" stroke="#2e2e2e" text-anchor="middle">2</text>
<text x="378.74" y="1789" font-family="'DejaVu Sans', Verdana, sans-serif" font-size="34" fill="#2e2e2e" stroke="#2e2e2e" text-anchor="middle">4</text>
<text x="426.32" y="1789" font-family="'DejaVu Sans', Verdana, sans-serif" font-size="34" fill="#2e2e2e" stroke="#2e2e2e" text-anchor="middle">32</text>
<text x="473.91" y="1789" font-family="'DejaVu Sans', Verdana, sans-serif" font-size="34" fill="#2e2e2e" stroke="#2e2e2e" text-anchor="middle">9</text>
<text x="521.5" y="1789" font-family="'DejaVu Sans', Verdana, sans-serif" font-size="34" fill="#2e2e2e" stroke="#2e2e2e" text-anchor="middle">14</text>
<text x="569.09" y="1789" font-family="'DejaVu Sans', Verdana, sans-serif" font-size="34" fill="#2e2e2e" stroke="#2e2e2e" text-anchor="middle">24</text>
<text x="616.68" y="1789" font-family="'DejaVu Sans', Verdana, sans-serif" font-size="34" fill="#2e2e2e" stroke="#2e2e2e" text-anchor="middle">8</text>
<text x="664.26" y="1789" font-family="'DejaVu Sans', Verdana, sans-serif" font-size="34" fill="#2e2e2e" stroke="#2e2e2e" text-anchor="middle">30</text>
<text x="711.85" y="1789" font-family="'DejaVu Sans', Verdana, sans-serif" font-size="34" fill="#2e2e2e" stroke="#2e2e2e" text-anchor="middle">7</text>
<text x="759.44" y="1789" font-family="'DejaVu Sans', Verdana, sans-serif" font-size="34" fill="#2e2e2e" stroke="#2e2e2e" text-anchor="middle">6</text>
<text x="807.03" y="1789" font-family="'DejaVu Sans', Verdana, sans-serif" font-size="34" fill="#2e2e2e" stroke="#2e2e2e" text-anchor="middle">31</text>
<text x="854.62" y="1789" font-family="'DejaVu Sans', Verdana, sans-serif" font-size="34" fill="#2e2e2e" stroke="#2e2e2e" text-anchor="middle">28</text>
<text x="902.21" y="1789" font-family="'DejaVu Sans', Verdana, sans-serif" font-size="34" fill="#2e2e2e" stroke="#2e2e2e" text-anchor="middle">5</text>
<text x="949.79" y="1789" font-family="'DejaVu Sans', Verdana, sans-serif" font-size="34" fill="#2e2e2e" stroke="#2e2e2e" text-anchor="middle">11</text>
<text x="997.38" y="1789" font-family="'DejaVu Sans', Verdana, sans-serif" font-size="34" fill="#2e2e2e" stroke="#2e2e2e" text-anchor="middle">20</text>
<text x="1044.97" y="1789" font-family="'DejaVu Sans', Verdana, sans-serif" font-size="34" fill="#2e2e2e" stroke="#2e2e2e" text-anchor="middle">25</text>
<text x="1092.56" y="1789" font-family="'DejaVu Sans', Verdana, sans-serif" font-size="34" fill="#2e2e2e" stroke="#2e2e2e" text-anchor="middle">26</text>
<text x="1140.15" y="1789" font-family="'DejaVu Sans', Verdana, sans-serif" font-size="34" fill="#2e2e2e" stroke="#2e2e2e" text-anchor="middle">29</text>
<text x="1187.74" y="1789" font-family="'DejaVu Sans', Verdana, sans-serif" font-size="34" fill="#2e2e2e" stroke="#2e2e2e" text-anchor="middle">10</text>
<text x="1235.32" y="1789" font-family="'DejaVu Sans', Verdana, sans-serif" font-size="34" fill="#2e2e2e" stroke="#2e2e2e" text-anchor="middle">13</text>
<text x="1282.91" y="1789" font-family="'DejaVu Sans', Verdana, sans-serif" font-size="34" fill="#2e2e2e" stroke="#2e2e2e" text-anchor="middle">15</text>
<text x="1330.5" y="1789" font-family="'DejaVu Sans', Verdana, sans-serif" font-size="34" fill="#2e2e2e" stroke="#2e2e2e" text-anchor="middle">16</text>
<text x="1378.09" y="1789" font-family="'DejaVu Sans', Verdana, sans-serif" font-size="34" fill="#2e2e2e" stroke="#2e2e2e" text-anchor="middle">17</text>
<text x="1425.68" y="1789" font-family="'DejaVu Sans', Verdana, sans-serif" font-size="34" fill="#2e2e2e" stroke="#2e2e2e" text-anchor="middle">18</text>
<text x="1473.26" y="1789" font-family="'DejaVu Sans', Verdana, sans-serif" font-size="34" fill="#2e2e2e" stroke="#2e2e2e" text-anchor="middle">19</text>
<text x="1520.85" y="1789" font-family="'DejaVu Sans', Verdana, sans-serif" font-size="34" fill="#2e2e2e" stroke="#2e2e2e" text-anchor="middle">21</text>
<text x="1568.44" y="1789" font-family="'DejaVu Sans', Verdana, sans-serif" font-size="34" fill="#2e2e2e" stroke="#2e2e2e" text-anchor="middle">22</text>
<text x="1616.03" y="1789" font-family="'DejaVu Sans', Verdana, sans-serif" font-size="34" fill="#2e2e2e" stroke="#2e2e2e" text-anchor="middle">23</text>
<text x="1663.62" y="1789" font-family="'DejaVu Sans', Verdana, sans-serif" font-size="34" fill="#2e2e2e" stroke="#2e2e2e" text-anchor="middle">27</text>
<text x="1711.21" y="1789" font-family="'DejaVu Sans', Verdana, sans-serif" font-size="34" fill="#2e2e2e" stroke="#2e2e2e" text-anchor="middle">12</text>
<text x="760" y="1621" font-family="'Liberation Sans', Arial, sans-serif" font-size="44" fill="#2a2a2a" stroke="#2a2a2a" textLength="271" lengthAdjust="spacingAndGlyphs">Betweenness</text>
</g>
<g id="eigen">
<rect x="122.65" y="1974" width="36" height="136" fill="#8064A2"/>
<rect x="169.94" y="1964" width="36" height="146" fill="#8064A2"/>
<rect x="217.24" y="1992" width="36" height="118" fill="#8064A2"/>
<rect x="264.53" y="1986" width="36" height="124" fill="#8064A2"/>
<rect x="311.82" y="2004" width="36" height="106" fill="#8064A2"/>
<rect x="359.12" y="2030" width="36" height="80" fill="#8064A2"/>
<rect x="406.41" y="2035" width="36" height="75" fill="#8064A2"/>
<rect x="453.71" y="2024" width="36" height="86" fill="#8064A2"/>
<rect x="501" y="2024" width="36" height="86" fill="#8064A2"/>
<rect x="548.29" y="2052" width="36" height="58" fill="#8064A2"/>
<rect x="595.59" y="2042" width="36" height="68" fill="#8064A2"/>
<rect x="642.88" y="2055" width="36" height="55" fill="#8064A2"/>
<rect x="690.18" y="2080" width="36" height="30" fill="#8064A2"/>
<rect x="737.47" y="2080" width="36" height="30" fill="#8064A2"/>
<rect x="784.76" y="2042" width="36" height="68" fill="#8064A2"/>
<rect x="832.06" y="2058" width="36" height="52" fill="#8064A2"/>
<rect x="879.35" y="2084" width="36" height="26" fill="#8064A2"/>
<rect x="926.65" y="2084" width="36" height="26" fill="#8064A2"/>
<rect x="973.94" y="2052" width="36" height="58" fill="#8064A2"/>
<rect x="1021.24" y="2087" width="36" height="23" fill="#8064A2"/>
<rect x="1068.53" y="2087" width="36" height="23" fill="#8064A2"/>
<rect x="1115.82" y="2058" width="36" height="52" fill="#8064A2"/>
<rect x="1163.12" y="2071" width="36" height="39" fill="#8064A2"/>
<rect x="1210.41" y="2080" width="36" height="30" fill="#8064A2"/>
<rect x="1257.71" y="2071" width="36" height="39" fill="#8064A2"/>
<rect x="1305" y="2071" width="36" height="39" fill="#8064A2"/>
<rect x="1352.29" y="2099" width="36" height="11" fill="#8064A2"/>
<rect x="1399.59" y="2077" width="36" height="33" fill="#8064A2"/>
<rect x="1446.88" y="2071" width="36" height="39" fill="#8064A2"/>
<rect x="1494.18" y="2071" width="36" height="39" fill="#8064A2"/>
<rect x="1541.47" y="2077" width="36" height="33" fill="#8064A2"/>
<rect x="1588.76" y="2071" width="36" height="39" fill="#8064A2"/>
<rect x="1636.06" y="2083" width="36" height="27" fill="#8064A2"/>
<rect x="1683.35" y="2090" width="36" height="20" fill="#8064A2"/>
<rect x="116" y="1893" width="3" height="217" fill="#868686"/>
<rect x="117" y="2109" width="1609" height="3" fill="#868686"/>
<rect x="102" y="1892" width="15.5" height="2" fill="#868686"/>
<rect x="102" y="1965" width="15.5" height="2" fill="#868686"/>
<rect x="102" y="2037" width="15.5" height="2" fill="#868686"/>
<rect x="102" y="2109" width="15.5" height="2" fill="#868686"/>
<rect x="116" y="2110" width="2.2" height="13" fill="#868686"/>
<rect x="163.29" y="2110" width="2.2" height="13" fill="#868686"/>
<rect x="210.59" y="2110" width="2.2" height="13" fill="#868686"/>
<rect x="257.88" y="2110" width="2.2" height="13" fill="#868686"/>
<rect x="305.18" y="2110" width="2.2" height="13" fill="#868686"/>
<rect x="352.47" y="2110" width="2.2" height="13" fill="#868686"/>
<rect x="399.76" y="2110" width="2.2" height="13" fill="#868686"/>
<rect x="447.06" y="2110" width="2.2" height="13" fill="#868686"/>
<rect x="494.35" y="2110" width="2.2" height="13" fill="#868686"/>
<rect x="541.65" y="2110" width="2.2" height="13" fill="#868686"/>
<rect x="588.94" y="2110" width="2.2" height="13" fill="#868686"/>
<rect x="636.24" y="2110" width="2.2" height="13" fill="#868686"/>
<rect x="683.53" y="2110" width="2.2" height="13" fill="#868686"/>
<rect x="730.82" y="2110" width="2.2" height="13" fill="#868686"/>
<rect x="778.12" y="2110" width="2.2" height="13" fill="#868686"/>
<rect x="825.41" y="2110" width="2.2" height="13" fill="#868686"/>
<rect x="872.71" y="2110" width="2.2" height="13" fill="#868686"/>
<rect x="920" y="2110" width="2.2" height="13" fill="#868686"/>
<rect x="967.29" y="2110" width="2.2" height="13" fill="#868686"/>
<rect x="1014.59" y="2110" width="2.2" height="13" fill="#868686"/>
<rect x="1061.88" y="2110" width="2.2" height="13" fill="#868686"/>
<rect x="1109.18" y="2110" width="2.2" height="13" fill="#868686"/>
<rect x="1156.47" y="2110" width="2.2" height="13" fill="#868686"/>
<rect x="1203.76" y="2110" width="2.2" height="13" fill="#868686"/>
<rect x="1251.06" y="2110" width="2.2" height="13" fill="#868686"/>
<rect x="1298.35" y="2110" width="2.2" height="13" fill="#868686"/>
<rect x="1345.65" y="2110" width="2.2" height="13" fill="#868686"/>
<rect x="1392.94" y="2110" width="2.2" height="13" fill="#868686"/>
<rect x="1440.24" y="2110" width="2.2" height="13" fill="#868686"/>
<rect x="1487.53" y="2110" width="2.2" height="13" fill="#868686"/>
<rect x="1534.82" y="2110" width="2.2" height="13" fill="#868686"/>
<rect x="1582.12" y="2110" width="2.2" height="13" fill="#868686"/>
<rect x="1629.41" y="2110" width="2.2" height="13" fill="#868686"/>
<rect x="1676.71" y="2110" width="2.2" height="13" fill="#868686"/>
<rect x="1724" y="2110" width="2.2" height="13" fill="#868686"/>
<text x="76.55" y="1925" font-family="'DejaVu Sans', Verdana, sans-serif" font-size="34" fill="#2a2a2a" stroke="#2a2a2a" text-anchor="end">1.5</text>
<text x="76.89" y="1989" font-family="'DejaVu Sans', Verdana, sans-serif" font-size="34" fill="#2a2a2a" stroke="#2a2a2a" text-anchor="end">1</text>
<text x="76.55" y="2055" font-family="'DejaVu Sans', Verdana, sans-serif" font-size="34" fill="#2a2a2a" stroke="#2a2a2a" text-anchor="end">0.5</text>
<text x="76.24" y="2124" font-family="'DejaVu Sans', Verdana, sans-serif" font-size="34" fill="#2a2a2a" stroke="#2a2a2a" text-anchor="end">0</text>
<text x="135.6" y="2181" font-family="'DejaVu Sans', Verdana, sans-serif" font-size="33" fill="#2e2e2e" stroke="#2e2e2e" text-anchor="middle">1</text>
<text x="183.54" y="2181" font-family="'DejaVu Sans', Verdana, sans-serif" font-size="33" fill="#2e2e2e" stroke="#2e2e2e" text-anchor="middle">34</text>
<text x="231.48" y="2181" font-family="'DejaVu Sans', Verdana, sans-serif" font-size="33" fill="#2e2e2e" stroke="#2e2e2e" text-anchor="middle">33</text>
<text x="279.42" y="2181" font-family="'DejaVu Sans', Verdana, sans-serif" font-size="33" fill="#2e2e2e" stroke="#2e2e2e" text-anchor="middle">3</text>
<text x="327.36" y="2181" font-family="'DejaVu Sans', Verdana, sans-serif" font-size="33" fill="#2e2e2e" stroke="#2e2e2e" text-anchor="middle">2</text>
<text x="375.3" y="2181" font-family="'DejaVu Sans', Verdana, sans-serif" font-size="33" fill="#2e2e2e" stroke="#2e2e2e" text-anchor="middle">4</text>
<text x="423.24" y="2181" font-family="'DejaVu Sans', Verdana, sans-serif" font-size="33" fill="#2e2e2e" stroke="#2e2e2e" text-anchor="middle">32</text>
<text x="471.18" y="2181" font-family="'DejaVu Sans', Verdana, sans-serif" font-size="33" fill="#2e2e2e" stroke="#2e2e2e" text-anchor="middle">9</text>
<text x="519.12" y="2181" font-family="'DejaVu Sans', Verdana, sans-serif" font-size="33" fill="#2e2e2e" stroke="#2e2e2e" text-anchor="middle">14</text>
<text x="567.06" y="2181" font-family="'DejaVu Sans', Verdana, sans-serif" font-size="33" fill="#2e2e2e" stroke="#2e2e2e" text-anchor="middle">24</text>
<text x="615" y="2181" font-family="'DejaVu Sans', Verdana, sans-serif" font-size="33" fill="#2e2e2e" stroke="#2e2e2e" text-anchor="middle">8</text>
<text x="662.94" y="2181" font-family="'DejaVu Sans', Verdana, sans-serif" font-size="33" fill="#2e2e2e" stroke="#2e2e2e" text-anchor="middle">30</text>
<text x="710.88" y="2181" font-family="'DejaVu Sans', Verdana, sans-serif" font-size="33" fill="#2e2e2e" stroke="#2e2e2e" text-anchor="middle">7</text>
<text x="758.82" y="2181" font-family="'DejaVu Sans', Verdana, sans-serif" font-size="33" fill="#2e2e2e" stroke="#2e2e2e" text-anchor="middle">6</text>
<text x="806.76" y="2181" font-family="'DejaVu Sans', Verdana, sans-serif" font-size="33" fill="#2e2e2e" stroke="#2e2e2e" text-anchor="middle">31</text>
<text x="854.7" y="2181" font-family="'DejaVu Sans', Verdana, sans-serif" font-size="33" fill="#2e2e2e" stroke="#2e2e2e" text-anchor="middle">28</text>
<text x="902.64" y="2181" font-family="'DejaVu Sans', Verdana, sans-serif" font-size="33" fill="#2e2e2e" stroke="#2e2e2e" text-anchor="middle">5</text>
<text x="950.58" y="2181" font-family="'DejaVu Sans', Verdana, sans-serif" font-size="33" fill="#2e2e2e" stroke="#2e2e2e" text-anchor="middle">11</text>
<text x="998.52" y="2181" font-family="'DejaVu Sans', Verdana, sans-serif" font-size="33" fill="#2e2e2e" stroke="#2e2e2e" text-anchor="middle">20</text>
<text x="1046.46" y="2181" font-family="'DejaVu Sans', Verdana, sans-serif" font-size="33" fill="#2e2e2e" stroke="#2e2e2e" text-anchor="middle">25</text>
<text x="1094.4" y="2181" font-family="'DejaVu Sans', Verdana, sans-serif" font-size="33" fill="#2e2e2e" stroke="#2e2e2e" text-anchor="middle">26</text>
<text x="1142.34" y="2181" font-family="'DejaVu Sans', Verdana, sans-serif" font-size="33" fill="#2e2e2e" stroke="#2e2e2e" text-anchor="middle">29</text>
<text x="1190.28" y="2181" font-family="'DejaVu Sans', Verdana, sans-serif" font-size="33" fill="#2e2e2e" stroke="#2e2e2e" text-anchor="middle">10</text>
<text x="1238.22" y="2181" font-family="'DejaVu Sans', Verdana, sans-serif" font-size="33" fill="#2e2e2e" stroke="#2e2e2e" text-anchor="middle">13</text>
<text x="1286.16" y="2181" font-family="'DejaVu Sans', Verdana, sans-serif" font-size="33" fill="#2e2e2e" stroke="#2e2e2e" text-anchor="middle">15</text>
<text x="1334.1" y="2181" font-family="'DejaVu Sans', Verdana, sans-serif" font-size="33" fill="#2e2e2e" stroke="#2e2e2e" text-anchor="middle">16</text>
<text x="1382.04" y="2181" font-family="'DejaVu Sans', Verdana, sans-serif" font-size="33" fill="#2e2e2e" stroke="#2e2e2e" text-anchor="middle">17</text>
<text x="1429.98" y="2181" font-family="'DejaVu Sans', Verdana, sans-serif" font-size="33" fill="#2e2e2e" stroke="#2e2e2e" text-anchor="middle">18</text>
<text x="1477.92" y="2181" font-family="'DejaVu Sans', Verdana, sans-serif" font-size="33" fill="#2e2e2e" stroke="#2e2e2e" text-anchor="middle">19</text>
<text x="1525.86" y="2181" font-family="'DejaVu Sans', Verdana, sans-serif" font-size="33" fill="#2e2e2e" stroke="#2e2e2e" text-anchor="middle">21</text>
<text x="1573.8" y="2181" font-family="'DejaVu Sans', Verdana, sans-serif" font-size="33" fill="#2e2e2e" stroke="#2e2e2e" text-anchor="middle">22</text>
<text x="1621.74" y="2181" font-family="'DejaVu Sans', Verdana, sans-serif" font-size="33" fill="#2e2e2e" stroke="#2e2e2e" text-anchor="middle">23</text>
<text x="1669.68" y="2181" font-family="'DejaVu Sans', Verdana, sans-serif" font-size="33" fill="#2e2e2e" stroke="#2e2e2e" text-anchor="middle">27</text>
<text x="1717.62" y="2181" font-family="'DejaVu Sans', Verdana, sans-serif" font-size="33" fill="#2e2e2e" stroke="#2e2e2e" text-anchor="middle">12</text>
<text x="771" y="1992" font-family="'Liberation Sans', Arial, sans-serif" font-size="44" fill="#2a2a2a" stroke="#2a2a2a" textLength="216" lengthAdjust="spacingAndGlyphs">Eigenvetor</text>
</g>
<g id="information">
<rect x="105.96" y="2335" width="36" height="118" fill="#86A34A"/>
<rect x="153.87" y="2335" width="36" height="118" fill="#86A34A"/>
<rect x="201.78" y="2342" width="36" height="111" fill="#86A34A"/>
<rect x="249.69" y="2339" width="36" height="114" fill="#86A34A"/>
<rect x="297.6" y="2348" width="36" height="105" fill="#86A34A"/>
<rect x="345.51" y="2357" width="36" height="96" fill="#86A34A"/>
<rect x="393.43" y="2357" width="36" height="96" fill="#86A34A"/>
<rect x="441.34" y="2357" width="36" height="96" fill="#86A34A"/>
<rect x="489.25" y="2357" width="36" height="96" fill="#86A34A"/>
<rect x="537.16" y="2364" width="36" height="89" fill="#86A34A"/>
<rect x="585.07" y="2367" width="36" height="86" fill="#86A34A"/>
<rect x="632.99" y="2371" width="36" height="82" fill="#86A34A"/>
<rect x="680.9" y="2386" width="36" height="67" fill="#86A34A"/>
<rect x="728.81" y="2386" width="36" height="67" fill="#86A34A"/>
<rect x="776.72" y="2368" width="36" height="85" fill="#86A34A"/>
<rect x="824.63" y="2368" width="36" height="85" fill="#86A34A"/>
<rect x="872.54" y="2386" width="36" height="67" fill="#86A34A"/>
<rect x="920.46" y="2386" width="36" height="67" fill="#86A34A"/>
<rect x="968.37" y="2374" width="36" height="79" fill="#86A34A"/>
<rect x="1016.28" y="2386" width="36" height="67" fill="#86A34A"/>
<rect x="1064.19" y="2386" width="36" height="67" fill="#86A34A"/>
<rect x="1112.1" y="2374" width="36" height="79" fill="#86A34A"/>
<rect x="1160.01" y="2390" width="36" height="63" fill="#86A34A"/>
<rect x="1207.93" y="2393" width="36" height="60" fill="#86A34A"/>
<rect x="1255.84" y="2393" width="36" height="60" fill="#86A34A"/>
<rect x="1303.75" y="2393" width="36" height="60" fill="#86A34A"/>
<rect x="1351.66" y="2405" width="36" height="48" fill="#86A34A"/>
<rect x="1399.57" y="2390" width="36" height="63" fill="#86A34A"/>
<rect x="1447.49" y="2393" width="36" height="60" fill="#86A34A"/>
<rect x="1495.4" y="2393" width="36" height="60" fill="#86A34A"/>
<rect x="1543.31" y="2390" width="36" height="63" fill="#86A34A"/>
<rect x="1591.22" y="2393" width="36" height="60" fill="#86A34A"/>
<rect x="1639.13" y="2396" width="36" height="57" fill="#86A34A"/>
<rect x="1687.04" y="2411" width="36" height="42" fill="#86A34A"/>
<rect x="99" y="2219" width="3" height="234" fill="#8a8a94"/>
<rect x="100" y="2452" width="1630" height="3" fill="#8a8a94"/>
<rect x="86" y="2218" width="14.5" height="2" fill="#8a8a94"/>
<rect x="86" y="2333" width="14.5" height="2" fill="#8a8a94"/>
<rect x="86" y="2452" width="14.5" height="2" fill="#8a8a94"/>
<rect x="99" y="2453" width="2.2" height="13" fill="#8a8a94"/>
<rect x="146.91" y="2453" width="2.2" height="13" fill="#8a8a94"/>
<rect x="194.82" y="2453" width="2.2" height="13" fill="#8a8a94"/>
<rect x="242.74" y="2453" width="2.2" height="13" fill="#8a8a94"/>
<rect x="290.65" y="2453" width="2.2" height="13" fill="#8a8a94"/>
<rect x="338.56" y="2453" width="2.2" height="13" fill="#8a8a94"/>
<rect x="386.47" y="2453" width="2.2" height="13" fill="#8a8a94"/>
<rect x="434.38" y="2453" width="2.2" height="13" fill="#8a8a94"/>
<rect x="482.29" y="2453" width="2.2" height="13" fill="#8a8a94"/>
<rect x="530.21" y="2453" width="2.2" height="13" fill="#8a8a94"/>
<rect x="578.12" y="2453" width="2.2" height="13" fill="#8a8a94"/>
<rect x="626.03" y="2453" width="2.2" height="13" fill="#8a8a94"/>
<rect x="673.94" y="2453" width="2.2" height="13" fill="#8a8a94"/>
<rect x="721.85" y="2453" width="2.2" height="13" fill="#8a8a94"/>
<rect x="769.76" y="2453" width="2.2" height="13" fill="#8a8a94"/>
<rect x="817.68" y="2453" width="2.2" height="13" fill="#8a8a94"/>
<rect x="865.59" y="2453" width="2.2" height="13" fill="#8a8a94"/>
<rect x="913.5" y="2453" width="2.2" height="13" fill="#8a8a94"/>
<rect x="961.41" y="2453" width="2.2" height="13" fill="#8a8a94"/>
<rect x="1009.32" y="2453" width="2.2" height="13" fill="#8a8a94"/>
<rect x="1057.24" y="2453" width="2.2" height="13" fill="#8a8a94"/>
<rect x="1105.15" y="2453" width="2.2" height="13" fill="#8a8a94"/>
<rect x="1153.06" y="2453" width="2.2" height="13" fill="#8a8a94"/>
<rect x="1200.97" y="2453" width="2.2" height="13" fill="#8a8a94"/>
<rect x="1248.88" y="2453" width="2.2" height="13" fill="#8a8a94"/>
<rect x="1296.79" y="2453" width="2.2" height="13" fill="#8a8a94"/>
<rect x="1344.71" y="2453" width="2.2" height="13" fill="#8a8a94"/>
<rect x="1392.62" y="2453" width="2.2" height="13" fill="#8a8a94"/>
<rect x="1440.53" y="2453" width="2.2" height="13" fill="#8a8a94"/>
<rect x="1488.44" y="2453" width="2.2" height="13" fill="#8a8a94"/>
<rect x="1536.35" y="2453" width="2.2" height="13" fill="#8a8a94"/>
<rect x="1584.26" y="2453" width="2.2" height="13" fill="#8a8a94"/>
<rect x="1632.18" y="2453" width="2.2" height="13" fill="#8a8a94"/>
<rect x="1680.09" y="2453" width="2.2" height="13" fill="#8a8a94"/>
<rect x="1728" y="2453" width="2.2" height="13" fill="#8a8a94"/>
<text x="61.88" y="2233" font-family="'DejaVu Sans', Verdana, sans-serif" font-size="34" fill="#2a2a2a" stroke="#2a2a2a" text-anchor="end">2</text>
<text x="62.39" y="2349.5" font-family="'DejaVu Sans', Verdana, sans-serif" font-size="34" fill="#2a2a2a" stroke="#2a2a2a" text-anchor="end">1</text>
<text x="61.74" y="2465" font-family="'DejaVu Sans', Verdana, sans-serif" font-size="34" fill="#2a2a2a" stroke="#2a2a2a" text-anchor="end">0</text>
<text x="123.96" y="2520" font-family="'DejaVu Sans', Verdana, sans-serif" font-size="34" fill="#2e2e2e" stroke="#2e2e2e" text-anchor="middle">1</text>
<text x="171.87" y="2520" font-family="'DejaVu Sans', Verdana, sans-serif" font-size="34" fill="#2e2e2e" stroke="#2e2e2e" text-anchor="middle">34</text>
<text x="219.78" y="2520" font-family="'DejaVu Sans', Verdana, sans-serif" font-size="34" fill="#2e2e2e" stroke="#2e2e2e" text-anchor="middle">33</text>
<text x="267.69" y="2520" font-family="'DejaVu Sans', Verdana, sans-serif" font-size="34" fill="#2e2e2e" stroke="#2e2e2e" text-anchor="middle">3</text>
<text x="315.6" y="2520" font-family="'DejaVu Sans', Verdana, sans-serif" font-size="34" fill="#2e2e2e" stroke="#2e2e2e" text-anchor="middle">2</text>
<text x="363.51" y="2520" font-family="'DejaVu Sans', Verdana, sans-serif" font-size="34" fill="#2e2e2e" stroke="#2e2e2e" text-anchor="middle">4</text>
<text x="411.43" y="2520" font-family="'DejaVu Sans', Verdana, sans-serif" font-size="34" fill="#2e2e2e" stroke="#2e2e2e" text-anchor="middle">32</text>
<text x="459.34" y="2520" font-family="'DejaVu Sans', Verdana, sans-serif" font-size="34" fill="#2e2e2e" stroke="#2e2e2e" text-anchor="middle">9</text>
<text x="507.25" y="2520" font-family="'DejaVu Sans', Verdana, sans-serif" font-size="34" fill="#2e2e2e" stroke="#2e2e2e" text-anchor="middle">14</text>
<text x="555.16" y="2520" font-family="'DejaVu Sans', Verdana, sans-serif" font-size="34" fill="#2e2e2e" stroke="#2e2e2e" text-anchor="middle">24</text>
<text x="603.07" y="2520" font-family="'DejaVu Sans', Verdana, sans-serif" font-size="34" fill="#2e2e2e" stroke="#2e2e2e" text-anchor="middle">8</text>
<text x="650.99" y="2520" font-family="'DejaVu Sans', Verdana, sans-serif" font-size="34" fill="#2e2e2e" stroke="#2e2e2e" text-anchor="middle">30</text>
<text x="698.9" y="2520" font-family="'DejaVu Sans', Verdana, sans-serif" font-size="34" fill="#2e2e2e" stroke="#2e2e2e" text-anchor="middle">7</text>
<text x="746.81" y="2520" font-family="'DejaVu Sans', Verdana, sans-serif" font-size="34" fill="#2e2e2e" stroke="#2e2e2e" text-anchor="middle">6</text>
<text x="794.72" y="2520" font-family="'DejaVu Sans', Verdana, sans-serif" font-size="34" fill="#2e2e2e" stroke="#2e2e2e" text-anchor="middle">31</text>
<text x="842.63" y="2520" font-family="'DejaVu Sans', Verdana, sans-serif" font-size="34" fill="#2e2e2e" stroke="#2e2e2e" text-anchor="middle">28</text>
<text x="890.54" y="2520" font-family="'DejaVu Sans', Verdana, sans-serif" font-size="34" fill="#2e2e2e" stroke="#2e2e2e" text-anchor="middle">5</text>
<text x="938.46" y="2520" font-family="'DejaVu Sans', Verdana, sans-serif" font-size="34" fill="#2e2e2e" stroke="#2e2e2e" text-anchor="middle">11</text>
<text x="986.37" y="2520" font-family="'DejaVu Sans', Verdana, sans-serif" font-size="34" fill="#2e2e2e" stroke="#2e2e2e" text-anchor="middle">20</text>
<text x="1034.28" y="2520" font-family="'DejaVu Sans', Verdana, sans-serif" font-size="34" fill="#2e2e2e" stroke="#2e2e2e" text-anchor="middle">25</text>
<text x="1082.19" y="2520" font-family="'DejaVu Sans', Verdana, sans-serif" font-size="34" fill="#2e2e2e" stroke="#2e2e2e" text-anchor="middle">26</text>
<text x="1130.1" y="2520" font-family="'DejaVu Sans', Verdana, sans-serif" font-size="34" fill="#2e2e2e" stroke="#2e2e2e" text-anchor="middle">29</text>
<text x="1178.01" y="2520" font-family="'DejaVu Sans', Verdana, sans-serif" font-size="34" fill="#2e2e2e" stroke="#2e2e2e" text-anchor="middle">10</text>
<text x="1225.93" y="2520" font-family="'DejaVu Sans', Verdana, sans-serif" font-size="34" fill="#2e2e2e" stroke="#2e2e2e" text-anchor="middle">13</text>
<text x="1273.84" y="2520" font-family="'DejaVu Sans', Verdana, sans-serif" font-size="34" fill="#2e2e2e" stroke="#2e2e2e" text-anchor="middle">15</text>
<text x="1321.75" y="2520" font-family="'DejaVu Sans', Verdana, sans-serif" font-size="34" fill="#2e2e2e" stroke="#2e2e2e" text-anchor="middle">16</text>
<text x="1369.66" y="2520" font-family="'DejaVu Sans', Verdana, sans-serif" font-size="34" fill="#2e2e2e" stroke="#2e2e2e" text-anchor="middle">17</text>
<text x="1417.57" y="2520" font-family="'DejaVu Sans', Verdana, sans-serif" font-size="34" fill="#2e2e2e" stroke="#2e2e2e" text-anchor="middle">18</text>
<text x="1465.49" y="2520" font-family="'DejaVu Sans', Verdana, sans-serif" font-size="34" fill="#2e2e2e" stroke="#2e2e2e" text-anchor="middle">19</text>
<text x="1513.4" y="2520" font-family="'DejaVu Sans', Verdana, sans-serif" font-size="34" fill="#2e2e2e" stroke="#2e2e2e" text-anchor="middle">21</text>
<text x="1561.31" y="2520" font-family="'DejaVu Sans', Verdana, sans-serif" font-size="34" fill="#2e2e2e" stroke="#2e2e2e" text-anchor="middle">22</text>
<text x="1609.22" y="2520" font-family="'DejaVu Sans', Verdana, sans-serif" font-size="34" fill="#2e2e2e" stroke="#2e2e2e" text-anchor="middle">23</text>
<text x="1657.13" y="2520" font-family="'DejaVu Sans', Verdana, sans-serif" font-size="34" fill="#2e2e2e" stroke="#2e2e2e" text-anchor="middle">27</text>
<text x="1705.04" y="2520" font-family="'DejaVu Sans', Verdana, sans-serif" font-size="34" fill="#2e2e2e" stroke="#2e2e2e" text-anchor="middle">12</text>
<text x="762" y="2267" font-family="'Liberation Sans', Arial, sans-serif" font-size="44" fill="#2a2a2a" stroke="#2a2a2a" textLength="242" lengthAdjust="spacingAndGlyphs">Information</text>
<rect x="1749" y="2299" width="3" height="12" fill="#111"/>
</g>
<g id="clossees">
<rect x="108.93" y="2771" width="36" height="129" fill="#8FA8D2"/>
<rect x="155.8" y="2832" width="36" height="68" fill="#8FA8D2"/>
<rect x="202.67" y="2807" width="36" height="93" fill="#8FA8D2"/>
<rect x="249.54" y="2764" width="36" height="136" fill="#8FA8D2"/>
<rect x="296.4" y="2776" width="36" height="124" fill="#8FA8D2"/>
<rect x="343.27" y="2767" width="36" height="133" fill="#8FA8D2"/>
<rect x="390.14" y="2814" width="36" height="86" fill="#8FA8D2"/>
<rect x="437.01" y="2792" width="36" height="108" fill="#8FA8D2"/>
<rect x="483.88" y="2810" width="36" height="90" fill="#8FA8D2"/>
<rect x="530.74" y="2810" width="36" height="90" fill="#8FA8D2"/>
<rect x="577.61" y="2783" width="36" height="117" fill="#8FA8D2"/>
<rect x="624.48" y="2810" width="36" height="90" fill="#8FA8D2"/>
<rect x="671.35" y="2779" width="36" height="121" fill="#8FA8D2"/>
<rect x="718.21" y="2773" width="36" height="127" fill="#8FA8D2"/>
<rect x="765.08" y="2810" width="36" height="90" fill="#8FA8D2"/>
<rect x="811.95" y="2807" width="36" height="93" fill="#8FA8D2"/>
<rect x="858.82" y="2779" width="36" height="121" fill="#8FA8D2"/>
<rect x="905.68" y="2805" width="36" height="95" fill="#8FA8D2"/>
<rect x="952.55" y="2814" width="36" height="86" fill="#8FA8D2"/>
<rect x="999.42" y="2810" width="36" height="90" fill="#8FA8D2"/>
<rect x="1046.29" y="2814" width="36" height="86" fill="#8FA8D2"/>
<rect x="1093.15" y="2810" width="36" height="90" fill="#8FA8D2"/>
<rect x="1140.02" y="2783" width="36" height="117" fill="#8FA8D2"/>
<rect x="1186.89" y="2792" width="36" height="108" fill="#8FA8D2"/>
<rect x="1233.76" y="2798" width="36" height="102" fill="#8FA8D2"/>
<rect x="1280.62" y="2814" width="36" height="86" fill="#8FA8D2"/>
<rect x="1327.49" y="2814" width="36" height="86" fill="#8FA8D2"/>
<rect x="1374.36" y="2814" width="36" height="86" fill="#8FA8D2"/>
<rect x="1421.23" y="2814" width="36" height="86" fill="#8FA8D2"/>
<rect x="1468.1" y="2789" width="36" height="111" fill="#8FA8D2"/>
<rect x="1514.96" y="2798" width="36" height="102" fill="#8FA8D2"/>
<rect x="1561.83" y="2817" width="36" height="83" fill="#8FA8D2"/>
<rect x="1608.7" y="2807" width="36" height="93" fill="#8FA8D2"/>
<rect x="1655.57" y="2789" width="36" height="111" fill="#8FA8D2"/>
<rect x="102.5" y="2631" width="3" height="269" fill="#9a9a9a"/>
<rect x="103.5" y="2899" width="1594.5" height="3" fill="#9a9a9a"/>
<rect x="88" y="2630" width="16" height="2" fill="#9a9a9a"/>
<rect x="88" y="2899" width="16" height="2" fill="#9a9a9a"/>
<rect x="102.5" y="2900" width="2.2" height="13" fill="#868686"/>
<rect x="149.37" y="2900" width="2.2" height="13" fill="#868686"/>
<rect x="196.24" y="2900" width="2.2" height="13" fill="#868686"/>
<rect x="243.1" y="2900" width="2.2" height="13" fill="#868686"/>
<rect x="289.97" y="2900" width="2.2" height="13" fill="#868686"/>
<rect x="336.84" y="2900" width="2.2" height="13" fill="#868686"/>
<rect x="383.71" y="2900" width="2.2" height="13" fill="#868686"/>
<rect x="430.57" y="2900" width="2.2" height="13" fill="#868686"/>
<rect x="477.44" y="2900" width="2.2" height="13" fill="#868686"/>
<rect x="524.31" y="2900" width="2.2" height="13" fill="#868686"/>
<rect x="571.18" y="2900" width="2.2" height="13" fill="#868686"/>
<rect x="618.04" y="2900" width="2.2" height="13" fill="#868686"/>
<rect x="664.91" y="2900" width="2.2" height="13" fill="#868686"/>
<rect x="711.78" y="2900" width="2.2" height="13" fill="#868686"/>
<rect x="758.65" y="2900" width="2.2" height="13" fill="#868686"/>
<rect x="805.51" y="2900" width="2.2" height="13" fill="#868686"/>
<rect x="852.38" y="2900" width="2.2" height="13" fill="#868686"/>
<rect x="899.25" y="2900" width="2.2" height="13" fill="#868686"/>
<rect x="946.12" y="2900" width="2.2" height="13" fill="#868686"/>
<rect x="992.99" y="2900" width="2.2" height="13" fill="#868686"/>
<rect x="1039.85" y="2900" width="2.2" height="13" fill="#868686"/>
<rect x="1086.72" y="2900" width="2.2" height="13" fill="#868686"/>
<rect x="1133.59" y="2900" width="2.2" height="13" fill="#868686"/>
<rect x="1180.46" y="2900" width="2.2" height="13" fill="#868686"/>
<rect x="1227.32" y="2900" width="2.2" height="13" fill="#868686"/>
<rect x="1274.19" y="2900" width="2.2" height="13" fill="#868686"/>
<rect x="1321.06" y="2900" width="2.2" height="13" fill="#868686"/>
<rect x="1367.93" y="2900" width="2.2" height="13" fill="#868686"/>
<rect x="1414.79" y="2900" width="2.2" height="13" fill="#868686"/>
<rect x="1461.66" y="2900" width="2.2" height="13" fill="#868686"/>
<rect x="1508.53" y="2900" width="2.2" height="13" fill="#868686"/>
<rect x="1555.4" y="2900" width="2.2" height="13" fill="#868686"/>
<rect x="1602.26" y="2900" width="2.2" height="13" fill="#868686"/>
<rect x="1649.13" y="2900" width="2.2" height="13" fill="#868686"/>
<rect x="1696" y="2900" width="2.2" height="13" fill="#868686"/>
<text x="64.45" y="2645" font-family="'DejaVu Sans', Verdana, sans-serif" font-size="35" fill="#2a2a2a" stroke="#2a2a2a" text-anchor="end">2</text>
<text x="64.31" y="2911.5" font-family="'DejaVu Sans', Verdana, sans-serif" font-size="35" fill="#2a2a2a" stroke="#2a2a2a" text-anchor="end">0</text>
<text x="126.93" y="2967.5" font-family="'DejaVu Sans', Verdana, sans-serif" font-size="34" fill="#2e2e2e" stroke="#2e2e2e" text-anchor="middle">1</text>
<text x="173.8" y="2967.5" font-family="'DejaVu Sans', Verdana, sans-serif" font-size="34" fill="#2e2e2e" stroke="#2e2e2e" text-anchor="middle">34</text>
<text x="220.67" y="2967.5" font-family="'DejaVu Sans', Verdana, sans-serif" font-size="34" fill="#2e2e2e" stroke="#2e2e2e" text-anchor="middle">33</text>
<text x="267.54" y="2967.5" font-family="'DejaVu Sans', Verdana, sans-serif" font-size="34" fill="#2e2e2e" stroke="#2e2e2e" text-anchor="middle">3</text>
<text x="314.4" y="2967.5" font-family="'DejaVu Sans', Verdana, sans-serif" font-size="34" fill="#2e2e2e" stroke="#2e2e2e" text-anchor="middle">2</text>
<text x="361.27" y="2967.5" font-family="'DejaVu Sans', Verdana, sans-serif" font-size="34" fill="#2e2e2e" stroke="#2e2e2e" text-anchor="middle">4</text>
<text x="408.14" y="2967.5" font-family="'DejaVu Sans', Verdana, sans-serif" font-size="34" fill="#2e2e2e" stroke="#2e2e2e" text-anchor="middle">32</text>
<text x="455.01" y="2967.5" font-family="'DejaVu Sans', Verdana, sans-serif" font-size="34" fill="#2e2e2e" stroke="#2e2e2e" text-anchor="middle">9</text>
<text x="501.88" y="2967.5" font-family="'DejaVu Sans', Verdana, sans-serif" font-size="34" fill="#2e2e2e" stroke="#2e2e2e" text-anchor="middle">14</text>
<text x="548.74" y="2967.5" font-family="'DejaVu Sans', Verdana, sans-serif" font-size="34" fill="#2e2e2e" stroke="#2e2e2e" text-anchor="middle">24</text>
<text x="595.61" y="2967.5" font-family="'DejaVu Sans', Verdana, sans-serif" font-size="34" fill="#2e2e2e" stroke="#2e2e2e" text-anchor="middle">8</text>
<text x="642.48" y="2967.5" font-family="'DejaVu Sans', Verdana, sans-serif" font-size="34" fill="#2e2e2e" stroke="#2e2e2e" text-anchor="middle">30</text>
<text x="689.35" y="2967.5" font-family="'DejaVu Sans', Verdana, sans-serif" font-size="34" fill="#2e2e2e" stroke="#2e2e2e" text-anchor="middle">7</text>
<text x="736.21" y="2967.5" font-family="'DejaVu Sans', Verdana, sans-serif" font-size="34" fill="#2e2e2e" stroke="#2e2e2e" text-anchor="middle">6</text>
<text x="783.08" y="2967.5" font-family="'DejaVu Sans', Verdana, sans-serif" font-size="34" fill="#2e2e2e" stroke="#2e2e2e" text-anchor="middle">31</text>
<text x="829.95" y="2967.5" font-family="'DejaVu Sans', Verdana, sans-serif" font-size="34" fill="#2e2e2e" stroke="#2e2e2e" text-anchor="middle">28</text>
<text x="876.82" y="2967.5" font-family="'DejaVu Sans', Verdana, sans-serif" font-size="34" fill="#2e2e2e" stroke="#2e2e2e" text-anchor="middle">5</text>
<text x="923.68" y="2967.5" font-family="'DejaVu Sans', Verdana, sans-serif" font-size="34" fill="#2e2e2e" stroke="#2e2e2e" text-anchor="middle">11</text>
<text x="970.55" y="2967.5" font-family="'DejaVu Sans', Verdana, sans-serif" font-size="34" fill="#2e2e2e" stroke="#2e2e2e" text-anchor="middle">20</text>
<text x="1017.42" y="2967.5" font-family="'DejaVu Sans', Verdana, sans-serif" font-size="34" fill="#2e2e2e" stroke="#2e2e2e" text-anchor="middle">25</text>
<text x="1064.29" y="2967.5" font-family="'DejaVu Sans', Verdana, sans-serif" font-size="34" fill="#2e2e2e" stroke="#2e2e2e" text-anchor="middle">26</text>
<text x="1111.15" y="2967.5" font-family="'DejaVu Sans', Verdana, sans-serif" font-size="34" fill="#2e2e2e" stroke="#2e2e2e" text-anchor="middle">29</text>
<text x="1158.02" y="2967.5" font-family="'DejaVu Sans', Verdana, sans-serif" font-size="34" fill="#2e2e2e" stroke="#2e2e2e" text-anchor="middle">10</text>
<text x="1204.89" y="2967.5" font-family="'DejaVu Sans', Verdana, sans-serif" font-size="34" fill="#2e2e2e" stroke="#2e2e2e" text-anchor="middle">13</text>
<text x="1251.76" y="2967.5" font-family="'DejaVu Sans', Verdana, sans-serif" font-size="34" fill="#2e2e2e" stroke="#2e2e2e" text-anchor="middle">15</text>
<text x="1298.62" y="2967.5" font-family="'DejaVu Sans', Verdana, sans-serif" font-size="34" fill="#2e2e2e" stroke="#2e2e2e" text-anchor="middle">16</text>
<text x="1345.49" y="2967.5" font-family="'DejaVu Sans', Verdana, sans-serif" font-size="34" fill="#2e2e2e" stroke="#2e2e2e" text-anchor="middle">17</text>
<text x="1392.36" y="2967.5" font-family="'DejaVu Sans', Verdana, sans-serif" font-size="34" fill="#2e2e2e" stroke="#2e2e2e" text-anchor="middle">18</text>
<text x="1439.23" y="2967.5" font-family="'DejaVu Sans', Verdana, sans-serif" font-size="34" fill="#2e2e2e" stroke="#2e2e2e" text-anchor="middle">19</text>
<text x="1486.1" y="2967.5" font-family="'DejaVu Sans', Verdana, sans-serif" font-size="34" fill="#2e2e2e" stroke="#2e2e2e" text-anchor="middle">21</text>
<text x="1532.96" y="2967.5" font-family="'DejaVu Sans', Verdana, sans-serif" font-size="34" fill="#2e2e2e" stroke="#2e2e2e" text-anchor="middle">22</text>
<text x="1579.83" y="2967.5" font-family="'DejaVu Sans', Verdana, sans-serif" font-size="34" fill="#2e2e2e" stroke="#2e2e2e" text-anchor="middle">23</text>
<text x="1626.7" y="2967.5" font-family="'DejaVu Sans', Verdana, sans-serif" font-size="34" fill="#2e2e2e" stroke="#2e2e2e" text-anchor="middle">27</text>
<text x="1673.57" y="2967.5" font-family="'DejaVu Sans', Verdana, sans-serif" font-size="34" fill="#2e2e2e" stroke="#2e2e2e" text-anchor="middle">12</text>
<text x="796" y="2683" font-family="'Liberation Sans', Arial, sans-serif" font-size="44" fill="#2a2a2a" stroke="#2a2a2a" textLength="176" lengthAdjust="spacingAndGlyphs">Clossees</text>
</g>
<g id="comm">
<rect x="116.16" y="3119" width="35" height="127" fill="#DC843C"/>
<rect x="163.49" y="3113" width="35" height="133" fill="#DC843C"/>
<rect x="210.81" y="3154" width="35" height="92" fill="#DC843C"/>
<rect x="258.13" y="3157" width="35" height="89" fill="#DC843C"/>
<rect x="305.46" y="3173" width="35" height="73" fill="#DC843C"/>
<rect x="352.78" y="3197" width="35" height="49" fill="#DC843C"/>
<rect x="400.1" y="3206" width="35" height="40" fill="#DC843C"/>
<rect x="447.43" y="3200" width="35" height="46" fill="#DC843C"/>
<rect x="494.75" y="3197" width="35" height="49" fill="#DC843C"/>
<rect x="542.07" y="3219" width="35" height="27" fill="#DC843C"/>
<rect x="589.4" y="3214" width="35" height="32" fill="#DC843C"/>
<rect x="636.72" y="3226" width="35" height="20" fill="#DC843C"/>
<rect x="684.04" y="3229" width="35" height="17" fill="#DC843C"/>
<rect x="731.37" y="3229" width="35" height="17" fill="#DC843C"/>
<rect x="778.69" y="3217" width="35" height="29" fill="#DC843C"/>
<rect x="826.01" y="3229" width="35" height="17" fill="#DC843C"/>
<rect x="873.34" y="3236" width="35" height="10" fill="#DC843C"/>
<rect x="920.66" y="3236" width="35" height="10" fill="#DC843C"/>
<rect x="967.99" y="3226" width="35" height="20" fill="#DC843C"/>
<rect x="1015.31" y="3236" width="35" height="10" fill="#DC843C"/>
<rect x="1062.63" y="3236" width="35" height="10" fill="#DC843C"/>
<rect x="1109.96" y="3232" width="35" height="14" fill="#DC843C"/>
<rect x="1157.28" y="3236" width="35" height="10" fill="#DC843C"/>
<rect x="1204.6" y="3236" width="35" height="10" fill="#DC843C"/>
<rect x="1251.93" y="3233" width="35" height="13" fill="#DC843C"/>
<rect x="1299.25" y="3233" width="35" height="13" fill="#DC843C"/>
<rect x="1346.57" y="3241" width="35" height="5" fill="#DC843C"/>
<rect x="1393.9" y="3233" width="35" height="13" fill="#DC843C"/>
<rect x="1441.22" y="3233" width="35" height="13" fill="#DC843C"/>
<rect x="1488.54" y="3233" width="35" height="13" fill="#DC843C"/>
<rect x="1535.87" y="3233" width="35" height="13" fill="#DC843C"/>
<rect x="1583.19" y="3233" width="35" height="13" fill="#DC843C"/>
<rect x="1630.51" y="3236" width="35" height="10" fill="#DC843C"/>
<rect x="1677.84" y="3239" width="35" height="7" fill="#DC843C"/>
<rect x="109" y="3045" width="3" height="201" fill="#9a9a9a"/>
<rect x="110" y="3245" width="1610" height="3" fill="#868686"/>
<rect x="95" y="3044" width="15.5" height="2" fill="#9a9a9a"/>
<rect x="95" y="3111" width="15.5" height="2" fill="#9a9a9a"/>
<rect x="95" y="3179" width="15.5" height="2" fill="#9a9a9a"/>
<rect x="95" y="3245" width="15.5" height="2" fill="#9a9a9a"/>
<rect x="109" y="3246" width="2.2" height="13" fill="#868686"/>
<rect x="156.32" y="3246" width="2.2" height="13" fill="#868686"/>
<rect x="203.65" y="3246" width="2.2" height="13" fill="#868686"/>
<rect x="250.97" y="3246" width="2.2" height="13" fill="#868686"/>
<rect x="298.29" y="3246" width="2.2" height="13" fill="#868686"/>
<rect x="345.62" y="3246" width="2.2" height="13" fill="#868686"/>
<rect x="392.94" y="3246" width="2.2" height="13" fill="#868686"/>
<rect x="440.26" y="3246" width="2.2" height="13" fill="#868686"/>
<rect x="487.59" y="3246" width="2.2" height="13" fill="#868686"/>
<rect x="534.91" y="3246" width="2.2" height="13" fill="#868686"/>
<rect x="582.24" y="3246" width="2.2" height="13" fill="#868686"/>
<rect x="629.56" y="3246" width="2.2" height="13" fill="#868686"/>
<rect x="676.88" y="3246" width="2.2" height="13" fill="#868686"/>
<rect x="724.21" y="3246" width="2.2" height="13" fill="#868686"/>
<rect x="771.53" y="3246" width="2.2" height="13" fill="#868686"/>
<rect x="818.85" y="3246" width="2.2" height="13" fill="#868686"/>
<rect x="866.18" y="3246" width="2.2" height="13" fill="#868686"/>
<rect x="913.5" y="3246" width="2.2" height="13" fill="#868686"/>
<rect x="960.82" y="3246" width="2.2" height="13" fill="#868686"/>
<rect x="1008.15" y="3246" width="2.2" height="13" fill="#868686"/>
<rect x="1055.47" y="3246" width="2.2" height="13" fill="#868686"/>
<rect x="1102.79" y="3246" width="2.2" height="13" fill="#868686"/>
<rect x="1150.12" y="3246" width="2.2" height="13" fill="#868686"/>
<rect x="1197.44" y="3246" width="2.2" height="13" fill="#868686"/>
<rect x="1244.76" y="3246" width="2.2" height="13" fill="#868686"/>
<rect x="1292.09" y="3246" width="2.2" height="13" fill="#868686"/>
<rect x="1339.41" y="3246" width="2.2" height="13" fill="#868686"/>
<rect x="1386.74" y="3246" width="2.2" height="13" fill="#868686"/>
<rect x="1434.06" y="3246" width="2.2" height="13" fill="#868686"/>
<rect x="1481.38" y="3246" width="2.2" height="13" fill="#868686"/>
<rect x="1528.71" y="3246" width="2.2" height="13" fill="#868686"/>
<rect x="1576.03" y="3246" width="2.2" height="13" fill="#868686"/>
<rect x="1623.35" y="3246" width="2.2" height="13" fill="#868686"/>
<rect x="1670.68" y="3246" width="2.2" height="13" fill="#868686"/>
<rect x="1718" y="3246" width="2.2" height="13" fill="#868686"/>
<text x="70.55" y="3061.5" font-family="'DejaVu Sans', Verdana, sans-serif" font-size="34" fill="#2a2a2a" stroke="#2a2a2a" text-anchor="end">1.5</text>
<text x="70.89" y="3127.5" font-family="'DejaVu Sans', Verdana, sans-serif" font-size="34" fill="#2a2a2a" stroke="#2a2a2a" text-anchor="end">1</text>
<text x="70.55" y="3193.5" font-family="'DejaVu Sans', Verdana, sans-serif" font-size="34" fill="#2a2a2a" stroke="#2a2a2a" text-anchor="end">0.5</text>
<text x="71.24" y="3262" font-family="'DejaVu Sans', Verdana, sans-serif" font-size="34" fill="#2a2a2a" stroke="#2a2a2a" text-anchor="end">0</text>
<text x="133.66" y="3313.5" font-family="'DejaVu Sans', Verdana, sans-serif" font-size="34" fill="#2e2e2e" stroke="#2e2e2e" text-anchor="middle">1</text>
<text x="180.99" y="3313.5" font-family="'DejaVu Sans', Verdana, sans-serif" font-size="34" fill="#2e2e2e" stroke="#2e2e2e" text-anchor="middle">34</text>
<text x="228.31" y="3313.5" font-family="'DejaVu Sans', Verdana, sans-serif" font-size="34" fill="#2e2e2e" stroke="#2e2e2e" text-anchor="middle">33</text>
<text x="275.63" y="3313.5" font-family="'DejaVu Sans', Verdana, sans-serif" font-size="34" fill="#2e2e2e" stroke="#2e2e2e" text-anchor="middle">3</text>
<text x="322.96" y="3313.5" font-family="'DejaVu Sans', Verdana, sans-serif" font-size="34" fill="#2e2e2e" stroke="#2e2e2e" text-anchor="middle">2</text>
<text x="370.28" y="3313.5" font-family="'DejaVu Sans', Verdana, sans-serif" font-size="34" fill="#2e2e2e" stroke="#2e2e2e" text-anchor="middle">4</text>
<text x="417.6" y="3313.5" font-family="'DejaVu Sans', Verdana, sans-serif" font-size="34" fill="#2e2e2e" stroke="#2e2e2e" text-anchor="middle">32</text>
<text x="464.93" y="3313.5" font-family="'DejaVu Sans', Verdana, sans-serif" font-size="34" fill="#2e2e2e" stroke="#2e2e2e" text-anchor="middle">9</text>
<text x="512.25" y="3313.5" font-family="'DejaVu Sans', Verdana, sans-serif" font-size="34" fill="#2e2e2e" stroke="#2e2e2e" text-anchor="middle">14</text>
<text x="559.57" y="3313.5" font-family="'DejaVu Sans', Verdana, sans-serif" font-size="34" fill="#2e2e2e" stroke="#2e2e2e" text-anchor="middle">24</text>
<text x="606.9" y="3313.5" font-family="'DejaVu Sans', Verdana, sans-serif" font-size="34" fill="#2e2e2e" stroke="#2e2e2e" text-anchor="middle">8</text>
<text x="654.22" y="3313.5" font-family="'DejaVu Sans', Verdana, sans-serif" font-size="34" fill="#2e2e2e" stroke="#2e2e2e" text-anchor="middle">30</text>
<text x="701.54" y="3313.5" font-family="'DejaVu Sans', Verdana, sans-serif" font-size="34" fill="#2e2e2e" stroke="#2e2e2e" text-anchor="middle">7</text>
<text x="748.87" y="3313.5" font-family="'DejaVu Sans', Verdana, sans-serif" font-size="34" fill="#2e2e2e" stroke="#2e2e2e" text-anchor="middle">6</text>
<text x="796.19" y="3313.5" font-family="'DejaVu Sans', Verdana, sans-serif" font-size="34" fill="#2e2e2e" stroke="#2e2e2e" text-anchor="middle">31</text>
<text x="843.51" y="3313.5" font-family="'DejaVu Sans', Verdana, sans-serif" font-size="34" fill="#2e2e2e" stroke="#2e2e2e" text-anchor="middle">28</text>
<text x="890.84" y="3313.5" font-family="'DejaVu Sans', Verdana, sans-serif" font-size="34" fill="#2e2e2e" stroke="#2e2e2e" text-anchor="middle">5</text>
<text x="938.16" y="3313.5" font-family="'DejaVu Sans', Verdana, sans-serif" font-size="34" fill="#2e2e2e" stroke="#2e2e2e" text-anchor="middle">11</text>
<text x="985.49" y="3313.5" font-family="'DejaVu Sans', Verdana, sans-serif" font-size="34" fill="#2e2e2e" stroke="#2e2e2e" text-anchor="middle">20</text>
<text x="1032.81" y="3313.5" font-family="'DejaVu Sans', Verdana, sans-serif" font-size="34" fill="#2e2e2e" stroke="#2e2e2e" text-anchor="middle">25</text>
<text x="1080.13" y="3313.5" font-family="'DejaVu Sans', Verdana, sans-serif" font-size="34" fill="#2e2e2e" stroke="#2e2e2e" text-anchor="middle">26</text>
<text x="1127.46" y="3313.5" font-family="'DejaVu Sans', Verdana, sans-serif" font-size="34" fill="#2e2e2e" stroke="#2e2e2e" text-anchor="middle">29</text>
<text x="1174.78" y="3313.5" font-family="'DejaVu Sans', Verdana, sans-serif" font-size="34" fill="#2e2e2e" stroke="#2e2e2e" text-anchor="middle">10</text>
<text x="1222.1" y="3313.5" font-family="'DejaVu Sans', Verdana, sans-serif" font-size="34" fill="#2e2e2e" stroke="#2e2e2e" text-anchor="middle">13</text>
<text x="1269.43" y="3313.5" font-family="'DejaVu Sans', Verdana, sans-serif" font-size="34" fill="#2e2e2e" stroke="#2e2e2e" text-anchor="middle">15</text>
<text x="1316.75" y="3313.5" font-family="'DejaVu Sans', Verdana, sans-serif" font-size="34" fill="#2e2e2e" stroke="#2e2e2e" text-anchor="middle">16</text>
<text x="1364.07" y="3313.5" font-family="'DejaVu Sans', Verdana, sans-serif" font-size="34" fill="#2e2e2e" stroke="#2e2e2e" text-anchor="middle">17</text>
<text x="1411.4" y="3313.5" font-family="'DejaVu Sans', Verdana, sans-serif" font-size="34" fill="#2e2e2e" stroke="#2e2e2e" text-anchor="middle">18</text>
<text x="1458.72" y="3313.5" font-family="'DejaVu Sans', Verdana, sans-serif" font-size="34" fill="#2e2e2e" stroke="#2e2e2e" text-anchor="middle">19</text>
<text x="1506.04" y="3313.5" font-family="'DejaVu Sans', Verdana, sans-serif" font-size="34" fill="#2e2e2e" stroke="#2e2e2e" text-anchor="middle">21</text>
<text x="1553.37" y="3313.5" font-family="'DejaVu Sans', Verdana, sans-serif" font-size="34" fill="#2e2e2e" stroke="#2e2e2e" text-anchor="middle">22</text>
<text x="1600.69" y="3313.5" font-family="'DejaVu Sans', Verdana, sans-serif" font-size="34" fill="#2e2e2e" stroke="#2e2e2e" text-anchor="middle">23</text>
<text x="1648.01" y="3313.5" font-family="'DejaVu Sans', Verdana, sans-serif" font-size="34" fill="#2e2e2e" stroke="#2e2e2e" text-anchor="middle">27</text>
<text x="1695.34" y="3313.5" font-family="'DejaVu Sans', Verdana, sans-serif" font-size="34" fill="#2e2e2e" stroke="#2e2e2e" text-anchor="middle">12</text>
<text x="701" y="3126" font-family="'Liberation Sans', Arial, sans-serif" font-size="44" fill="#2a2a2a" stroke="#2a2a2a" textLength="344" lengthAdjust="spacingAndGlyphs">Communicability</text>
</g>
</svg>
</body></html>
